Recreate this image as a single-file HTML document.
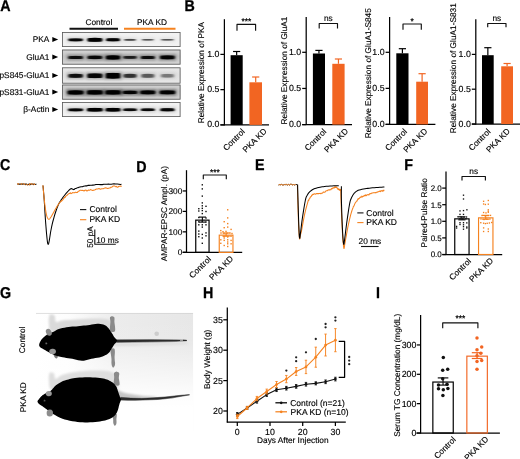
<!DOCTYPE html>
<html><head><meta charset="utf-8"><title>Figure</title>
<style>
html,body{margin:0;padding:0;background:#fff;}
body{width:520px;height:459px;overflow:hidden;}
svg{display:block;font-family:"Liberation Sans",sans-serif;text-rendering:geometricPrecision;}
</style></head><body>
<svg width="520" height="459" viewBox="0 0 520 459">
<defs>
<filter id="b1" x="-20%" y="-50%" width="140%" height="200%"><feGaussianBlur stdDeviation="0.85 0.6"/></filter>
<filter id="b4" x="-20%" y="-80%" width="140%" height="260%"><feGaussianBlur stdDeviation="1.6 1.2"/></filter>
<filter id="b2" x="-5%" y="-5%" width="110%" height="110%"><feGaussianBlur stdDeviation="0.55"/></filter>
<filter id="b3" x="-10%" y="-10%" width="120%" height="120%"><feGaussianBlur stdDeviation="1.3"/></filter>
<linearGradient id="photobg" x1="0" y1="0" x2="1" y2="0">
<stop offset="0" stop-color="#ffffff"/><stop offset="0.2" stop-color="#fdfdfd"/><stop offset="0.5" stop-color="#ececec"/><stop offset="1" stop-color="#e7e7e7"/>
</linearGradient>
<linearGradient id="photobg2" x1="0" y1="0" x2="0" y2="1">
<stop offset="0" stop-color="#ffffff" stop-opacity="0"/><stop offset="0.23" stop-color="#ffffff" stop-opacity="0.05"/><stop offset="0.45" stop-color="#ffffff" stop-opacity="0.45"/><stop offset="0.7" stop-color="#ffffff" stop-opacity="0.9"/><stop offset="0.8" stop-color="#ffffff" stop-opacity="1"/>
</linearGradient>
<clipPath id="photoclip"><rect x="34" y="312.8" width="159.2" height="120"/></clipPath>
</defs>
<rect width="520" height="459" fill="#fff"/>
<text transform="translate(0.30,11.40) scale(0.91,1)" font-size="15.7" font-weight="bold" fill="#000" stroke="#000" stroke-width="0.3" stroke-linejoin="round">A</text>
<text transform="translate(184.50,11.40) scale(0.91,1)" font-size="15.7" font-weight="bold" fill="#000" stroke="#000" stroke-width="0.3" stroke-linejoin="round">B</text>
<text transform="translate(-0.10,169.90) scale(0.91,1)" font-size="15.7" font-weight="bold" fill="#000" stroke="#000" stroke-width="0.3" stroke-linejoin="round">C</text>
<text transform="translate(136.20,171.80) scale(0.91,1)" font-size="15.7" font-weight="bold" fill="#000" stroke="#000" stroke-width="0.3" stroke-linejoin="round">D</text>
<text transform="translate(254.90,169.90) scale(0.91,1)" font-size="15.7" font-weight="bold" fill="#000" stroke="#000" stroke-width="0.3" stroke-linejoin="round">E</text>
<text transform="translate(404.20,169.90) scale(0.91,1)" font-size="15.7" font-weight="bold" fill="#000" stroke="#000" stroke-width="0.3" stroke-linejoin="round">F</text>
<text transform="translate(-0.10,298.20) scale(0.91,1)" font-size="15.7" font-weight="bold" fill="#000" stroke="#000" stroke-width="0.3" stroke-linejoin="round">G</text>
<text transform="translate(202.90,298.00) scale(0.91,1)" font-size="15.7" font-weight="bold" fill="#000" stroke="#000" stroke-width="0.3" stroke-linejoin="round">H</text>
<text transform="translate(376.00,297.80) scale(0.91,1)" font-size="15.7" font-weight="bold" fill="#000" stroke="#000" stroke-width="0.3" stroke-linejoin="round">I</text>
<text x="98.90" y="25.10" font-size="8.3" text-anchor="middle" font-weight="normal" fill="#000"  stroke="#000" stroke-width="0.14">Control</text>
<text x="152.00" y="25.10" font-size="8.3" text-anchor="middle" font-weight="normal" fill="#000"  stroke="#000" stroke-width="0.14">PKA KD</text>
<line x1="69.50" y1="28.70" x2="118.00" y2="28.70" stroke="#111" stroke-width="2.0" stroke-linecap="butt"/>
<line x1="124.00" y1="28.70" x2="175.50" y2="28.70" stroke="#f5821f" stroke-width="2.0" stroke-linecap="butt"/>
<clipPath id="blotclip"><rect x="62" y="30" width="118.5" height="90"/></clipPath>
<text x="49.30" y="42.40" font-size="8.3" text-anchor="end" font-weight="normal" fill="#000"  stroke="#000" stroke-width="0.14">PKA</text>
<path d="M52.3,37.00 L58.2,39.50 L52.3,42.00 Z" fill="#000"/>
<linearGradient id="bg0" x1="0" y1="0" x2="0" y2="1"><stop offset="0" stop-color="#f2f2f2"/><stop offset="0.45" stop-color="#f0f0f0"/><stop offset="1" stop-color="#f2f2f2"/></linearGradient>
<rect x="62.00" y="32.00" width="118.50" height="15.00" fill="url(#bg0)" stroke="none" stroke-width="1.0" />
<clipPath id="rc0"><rect x="62" y="32.0" width="118.5" height="15.0"/></clipPath>
<g clip-path="url(#rc0)">
<g filter="url(#b4)">
<rect x="66.8" y="36.80" width="17.6" height="6.00" fill="#000" opacity="0.10"/>
<rect x="85.9" y="36.30" width="18.0" height="7.00" fill="#000" opacity="0.10"/>
<rect x="104.6" y="36.70" width="16.8" height="6.20" fill="#000" opacity="0.10"/>
<rect x="122.6" y="37.30" width="14.8" height="5.00" fill="#000" opacity="0.06"/>
<rect x="140.4" y="37.40" width="14.8" height="4.80" fill="#000" opacity="0.05"/>
<rect x="159.6" y="37.40" width="15.6" height="4.80" fill="#000" opacity="0.05"/>
</g>
<g filter="url(#b1)">
<rect x="68.2" y="38.40" width="14.8" height="2.80" rx="1.40" fill="#000" opacity="0.95"/>
<ellipse cx="75.6" cy="39.80" rx="5.6" ry="1.61" fill="#000" opacity="0.57"/>
<rect x="87.3" y="37.90" width="15.2" height="3.80" rx="1.60" fill="#000" opacity="1.0"/>
<ellipse cx="94.9" cy="39.80" rx="5.7" ry="2.18" fill="#000" opacity="0.60"/>
<rect x="106.0" y="38.30" width="14.0" height="3.00" rx="1.50" fill="#000" opacity="0.97"/>
<ellipse cx="113.0" cy="39.80" rx="5.3" ry="1.72" fill="#000" opacity="0.58"/>
<rect x="124.0" y="38.90" width="12.0" height="1.80" rx="0.90" fill="#000" opacity="0.55"/>
<ellipse cx="130.0" cy="39.80" rx="4.6" ry="1.03" fill="#000" opacity="0.33"/>
<rect x="141.8" y="39.00" width="12.0" height="1.60" rx="0.80" fill="#000" opacity="0.5"/>
<ellipse cx="147.8" cy="39.80" rx="4.6" ry="0.92" fill="#000" opacity="0.30"/>
<rect x="161.0" y="39.00" width="12.8" height="1.60" rx="0.80" fill="#000" opacity="0.5"/>
<ellipse cx="167.4" cy="39.80" rx="4.9" ry="0.92" fill="#000" opacity="0.30"/>
</g></g>
<rect x="62.40" y="32.40" width="117.70" height="14.20" fill="none" stroke="#555" stroke-width="0.8" />
<text x="49.30" y="60.00" font-size="8.3" text-anchor="end" font-weight="normal" fill="#000"  stroke="#000" stroke-width="0.14">GluA1</text>
<path d="M52.3,54.60 L58.2,57.10 L52.3,59.60 Z" fill="#000"/>
<linearGradient id="bg1" x1="0" y1="0" x2="0" y2="1"><stop offset="0" stop-color="#d6d6d6"/><stop offset="0.45" stop-color="#c4c4c4"/><stop offset="1" stop-color="#d6d6d6"/></linearGradient>
<rect x="62.00" y="49.60" width="118.50" height="15.00" fill="url(#bg1)" stroke="none" stroke-width="1.0" />
<clipPath id="rc1"><rect x="62" y="49.6" width="118.5" height="14.999999999999993"/></clipPath>
<g clip-path="url(#rc1)">
<g filter="url(#b4)">
<rect x="66.8" y="54.30" width="17.6" height="6.20" fill="#000" opacity="0.26"/>
<rect x="86.1" y="54.20" width="17.6" height="6.40" fill="#000" opacity="0.27"/>
<rect x="104.4" y="53.80" width="17.2" height="7.20" fill="#000" opacity="0.30"/>
<rect x="121.8" y="54.50" width="16.4" height="5.80" fill="#000" opacity="0.21"/>
<rect x="139.4" y="54.30" width="16.8" height="6.20" fill="#000" opacity="0.26"/>
<rect x="158.6" y="54.00" width="17.6" height="6.80" fill="#000" opacity="0.28"/>
</g>
<g filter="url(#b1)">
<rect x="68.2" y="55.90" width="14.8" height="3.00" rx="1.50" fill="#000" opacity="0.85"/>
<ellipse cx="75.6" cy="57.40" rx="5.6" ry="1.72" fill="#000" opacity="0.51"/>
<rect x="87.5" y="55.80" width="14.8" height="3.20" rx="1.60" fill="#000" opacity="0.9"/>
<ellipse cx="94.9" cy="57.40" rx="5.6" ry="1.84" fill="#000" opacity="0.54"/>
<rect x="105.8" y="55.40" width="14.4" height="4.00" rx="1.60" fill="#000" opacity="1.0"/>
<ellipse cx="113.0" cy="57.40" rx="5.5" ry="2.30" fill="#000" opacity="0.60"/>
<rect x="123.2" y="56.10" width="13.6" height="2.60" rx="1.30" fill="#000" opacity="0.7"/>
<ellipse cx="130.0" cy="57.40" rx="5.2" ry="1.49" fill="#000" opacity="0.42"/>
<rect x="140.8" y="55.90" width="14.0" height="3.00" rx="1.50" fill="#000" opacity="0.85"/>
<ellipse cx="147.8" cy="57.40" rx="5.3" ry="1.72" fill="#000" opacity="0.51"/>
<rect x="160.0" y="55.60" width="14.8" height="3.60" rx="1.60" fill="#000" opacity="0.95"/>
<ellipse cx="167.4" cy="57.40" rx="5.6" ry="2.07" fill="#000" opacity="0.57"/>
</g></g>
<rect x="62.40" y="50.00" width="117.70" height="14.20" fill="none" stroke="#555" stroke-width="0.8" />
<text x="49.30" y="78.40" font-size="8.3" text-anchor="end" font-weight="normal" fill="#000"  stroke="#000" stroke-width="0.14">pS845-GluA1</text>
<path d="M52.3,73.00 L58.2,75.50 L52.3,78.00 Z" fill="#000"/>
<linearGradient id="bg2" x1="0" y1="0" x2="0" y2="1"><stop offset="0" stop-color="#e8e8e8"/><stop offset="0.45" stop-color="#e0e0e0"/><stop offset="1" stop-color="#e8e8e8"/></linearGradient>
<rect x="62.00" y="67.40" width="118.50" height="16.20" fill="url(#bg2)" stroke="none" stroke-width="1.0" />
<clipPath id="rc2"><rect x="62" y="67.4" width="118.5" height="16.19999999999999"/></clipPath>
<g clip-path="url(#rc2)">
<g filter="url(#b4)">
<rect x="66.8" y="72.30" width="17.6" height="7.00" fill="#000" opacity="0.21"/>
<rect x="85.9" y="72.00" width="18.0" height="7.60" fill="#000" opacity="0.24"/>
<rect x="104.2" y="71.50" width="17.6" height="8.60" fill="#000" opacity="0.25"/>
<rect x="121.8" y="72.30" width="16.4" height="7.00" fill="#000" opacity="0.15"/>
<rect x="139.6" y="72.30" width="16.4" height="7.00" fill="#000" opacity="0.10"/>
<rect x="159.2" y="72.40" width="16.4" height="6.80" fill="#000" opacity="0.07"/>
</g>
<g filter="url(#b1)">
<rect x="68.2" y="73.90" width="14.8" height="3.80" rx="1.60" fill="#000" opacity="0.85"/>
<ellipse cx="75.6" cy="75.80" rx="5.6" ry="2.18" fill="#000" opacity="0.51"/>
<rect x="87.3" y="73.60" width="15.2" height="4.40" rx="1.60" fill="#000" opacity="0.95"/>
<ellipse cx="94.9" cy="75.80" rx="5.7" ry="2.53" fill="#000" opacity="0.57"/>
<rect x="105.6" y="73.10" width="14.8" height="5.40" rx="1.60" fill="#000" opacity="1.0"/>
<ellipse cx="113.0" cy="75.80" rx="5.6" ry="3.10" fill="#000" opacity="0.60"/>
<rect x="123.2" y="73.90" width="13.6" height="3.80" rx="1.60" fill="#000" opacity="0.6"/>
<ellipse cx="130.0" cy="75.80" rx="5.2" ry="2.18" fill="#000" opacity="0.36"/>
<rect x="141.0" y="73.90" width="13.6" height="3.80" rx="1.60" fill="#000" opacity="0.42"/>
<ellipse cx="147.8" cy="75.80" rx="5.2" ry="2.18" fill="#000" opacity="0.25"/>
<rect x="160.6" y="74.00" width="13.6" height="3.60" rx="1.60" fill="#000" opacity="0.3"/>
<ellipse cx="167.4" cy="75.80" rx="5.2" ry="2.07" fill="#000" opacity="0.18"/>
</g></g>
<rect x="62.40" y="67.80" width="117.70" height="15.40" fill="none" stroke="#555" stroke-width="0.8" />
<text x="49.30" y="95.00" font-size="8.3" text-anchor="end" font-weight="normal" fill="#000"  stroke="#000" stroke-width="0.14">pS831-GluA1</text>
<path d="M52.3,89.60 L58.2,92.10 L52.3,94.60 Z" fill="#000"/>
<linearGradient id="bg3" x1="0" y1="0" x2="0" y2="1"><stop offset="0" stop-color="#d2d2d2"/><stop offset="0.45" stop-color="#c6c6c6"/><stop offset="1" stop-color="#d2d2d2"/></linearGradient>
<rect x="62.00" y="84.60" width="118.50" height="15.00" fill="url(#bg3)" stroke="none" stroke-width="1.0" />
<clipPath id="rc3"><rect x="62" y="84.6" width="118.5" height="15.0"/></clipPath>
<g clip-path="url(#rc3)">
<g filter="url(#b4)">
<rect x="66.2" y="88.80" width="18.8" height="7.20" fill="#000" opacity="0.38"/>
<rect x="85.5" y="88.70" width="18.8" height="7.40" fill="#000" opacity="0.38"/>
<rect x="103.8" y="88.70" width="18.4" height="7.40" fill="#000" opacity="0.38"/>
<rect x="121.2" y="89.10" width="17.6" height="6.60" fill="#000" opacity="0.36"/>
<rect x="138.8" y="89.00" width="18.0" height="6.80" fill="#000" opacity="0.37"/>
<rect x="158.2" y="89.00" width="18.4" height="6.80" fill="#000" opacity="0.37"/>
</g>
<g filter="url(#b1)">
<rect x="67.6" y="90.40" width="16.0" height="4.00" rx="1.60" fill="#000" opacity="1.0"/>
<ellipse cx="75.6" cy="92.40" rx="6.0" ry="2.30" fill="#000" opacity="0.60"/>
<rect x="86.9" y="90.30" width="16.0" height="4.20" rx="1.60" fill="#000" opacity="1.0"/>
<ellipse cx="94.9" cy="92.40" rx="6.0" ry="2.42" fill="#000" opacity="0.60"/>
<rect x="105.2" y="90.30" width="15.6" height="4.20" rx="1.60" fill="#000" opacity="1.0"/>
<ellipse cx="113.0" cy="92.40" rx="5.9" ry="2.42" fill="#000" opacity="0.60"/>
<rect x="122.6" y="90.70" width="14.8" height="3.40" rx="1.60" fill="#000" opacity="0.95"/>
<ellipse cx="130.0" cy="92.40" rx="5.6" ry="1.95" fill="#000" opacity="0.57"/>
<rect x="140.2" y="90.60" width="15.2" height="3.60" rx="1.60" fill="#000" opacity="0.97"/>
<ellipse cx="147.8" cy="92.40" rx="5.7" ry="2.07" fill="#000" opacity="0.58"/>
<rect x="159.6" y="90.60" width="15.6" height="3.60" rx="1.60" fill="#000" opacity="0.97"/>
<ellipse cx="167.4" cy="92.40" rx="5.9" ry="2.07" fill="#000" opacity="0.58"/>
</g></g>
<rect x="62.40" y="85.00" width="117.70" height="14.20" fill="none" stroke="#555" stroke-width="0.8" />
<text x="49.30" y="112.40" font-size="8.3" text-anchor="end" font-weight="normal" fill="#000"  stroke="#000" stroke-width="0.14">β-Actin</text>
<path d="M52.3,107.00 L58.2,109.50 L52.3,112.00 Z" fill="#000"/>
<linearGradient id="bg4" x1="0" y1="0" x2="0" y2="1"><stop offset="0" stop-color="#f3f3f3"/><stop offset="0.45" stop-color="#eeeeee"/><stop offset="1" stop-color="#f3f3f3"/></linearGradient>
<rect x="62.00" y="102.00" width="118.50" height="15.00" fill="url(#bg4)" stroke="none" stroke-width="1.0" />
<clipPath id="rc4"><rect x="62" y="102.0" width="118.5" height="15.0"/></clipPath>
<g clip-path="url(#rc4)">
<g filter="url(#b4)">
<rect x="66.6" y="106.80" width="18.0" height="6.00" fill="#000" opacity="0.12"/>
<rect x="85.5" y="106.40" width="18.8" height="6.80" fill="#000" opacity="0.12"/>
<rect x="104.0" y="106.40" width="18.0" height="6.80" fill="#000" opacity="0.12"/>
<rect x="121.6" y="106.90" width="16.8" height="5.80" fill="#000" opacity="0.11"/>
<rect x="139.4" y="106.90" width="16.8" height="5.80" fill="#000" opacity="0.11"/>
<rect x="158.8" y="106.70" width="17.2" height="6.20" fill="#000" opacity="0.11"/>
</g>
<g filter="url(#b1)">
<rect x="68.0" y="108.40" width="15.2" height="2.80" rx="1.40" fill="#000" opacity="0.97"/>
<ellipse cx="75.6" cy="109.80" rx="5.7" ry="1.61" fill="#000" opacity="0.58"/>
<rect x="86.9" y="108.00" width="16.0" height="3.60" rx="1.60" fill="#000" opacity="1.0"/>
<ellipse cx="94.9" cy="109.80" rx="6.0" ry="2.07" fill="#000" opacity="0.60"/>
<rect x="105.4" y="108.00" width="15.2" height="3.60" rx="1.60" fill="#000" opacity="1.0"/>
<ellipse cx="113.0" cy="109.80" rx="5.7" ry="2.07" fill="#000" opacity="0.60"/>
<rect x="123.0" y="108.50" width="14.0" height="2.60" rx="1.30" fill="#000" opacity="0.9"/>
<ellipse cx="130.0" cy="109.80" rx="5.3" ry="1.49" fill="#000" opacity="0.54"/>
<rect x="140.8" y="108.50" width="14.0" height="2.60" rx="1.30" fill="#000" opacity="0.92"/>
<ellipse cx="147.8" cy="109.80" rx="5.3" ry="1.49" fill="#000" opacity="0.55"/>
<rect x="160.2" y="108.30" width="14.4" height="3.00" rx="1.50" fill="#000" opacity="0.95"/>
<ellipse cx="167.4" cy="109.80" rx="5.5" ry="1.72" fill="#000" opacity="0.57"/>
</g></g>
<rect x="62.40" y="102.40" width="117.70" height="14.20" fill="none" stroke="#555" stroke-width="0.8" />
<line x1="224.40" y1="19.20" x2="224.40" y2="125.40" stroke="#000" stroke-width="1.25" stroke-linecap="butt"/>
<line x1="220.40" y1="124.90" x2="269.00" y2="124.90" stroke="#000" stroke-width="1.25" stroke-linecap="butt"/>
<line x1="220.40" y1="124.90" x2="224.40" y2="124.90" stroke="#000" stroke-width="1.25" stroke-linecap="butt"/>
<text x="219.40" y="127.40" font-size="8.8" text-anchor="end" font-weight="normal" fill="#000"  stroke="#000" stroke-width="0.14">0.0</text>
<line x1="220.40" y1="89.65" x2="224.40" y2="89.65" stroke="#000" stroke-width="1.25" stroke-linecap="butt"/>
<text x="219.40" y="92.15" font-size="8.8" text-anchor="end" font-weight="normal" fill="#000"  stroke="#000" stroke-width="0.14">0.5</text>
<line x1="220.40" y1="54.40" x2="224.40" y2="54.40" stroke="#000" stroke-width="1.25" stroke-linecap="butt"/>
<text x="219.40" y="56.90" font-size="8.8" text-anchor="end" font-weight="normal" fill="#000"  stroke="#000" stroke-width="0.14">1.0</text>
<rect x="230.60" y="55.20" width="12.10" height="69.70" fill="#000" stroke="none" stroke-width="1.0" />
<rect x="249.40" y="82.30" width="12.60" height="42.60" fill="#f26522" stroke="none" stroke-width="1.0" />
<line x1="236.65" y1="51.50" x2="236.65" y2="55.20" stroke="#000" stroke-width="1.2" stroke-linecap="butt"/>
<line x1="233.05" y1="51.50" x2="240.25" y2="51.50" stroke="#000" stroke-width="1.2" stroke-linecap="butt"/>
<line x1="255.70" y1="77.00" x2="255.70" y2="82.30" stroke="#f26522" stroke-width="1.2" stroke-linecap="butt"/>
<line x1="252.10" y1="77.00" x2="259.30" y2="77.00" stroke="#f26522" stroke-width="1.2" stroke-linecap="butt"/>
<polyline points="237.00,30.80 237.00,24.40 255.60,24.40 255.60,30.80" fill="none" stroke="#111" stroke-width="1.15" stroke-linejoin="round" />
<text x="246.30" y="24.00" font-size="8.3" text-anchor="middle" font-weight="normal" fill="#000" stroke="#000" stroke-width="0.25">***</text>
<text transform="translate(203.60,72.60) rotate(-90)" font-size="8.3" text-anchor="middle" font-weight="normal" fill="#000"  stroke="#000" stroke-width="0.14">Relative Expression of PKA</text>
<text transform="translate(245.30,132.30) rotate(-45)" font-size="8.3" text-anchor="end" font-weight="normal" fill="#000"  stroke="#000" stroke-width="0.14">Control</text>
<text transform="translate(267.20,131.80) rotate(-45)" font-size="8.3" text-anchor="end" font-weight="normal" fill="#000"  stroke="#000" stroke-width="0.14">PKA KD</text>
<line x1="306.20" y1="17.00" x2="306.20" y2="125.10" stroke="#000" stroke-width="1.25" stroke-linecap="butt"/>
<line x1="302.20" y1="124.60" x2="352.00" y2="124.60" stroke="#000" stroke-width="1.25" stroke-linecap="butt"/>
<line x1="302.20" y1="124.60" x2="306.20" y2="124.60" stroke="#000" stroke-width="1.25" stroke-linecap="butt"/>
<text x="301.20" y="127.10" font-size="8.8" text-anchor="end" font-weight="normal" fill="#000"  stroke="#000" stroke-width="0.14">0.0</text>
<line x1="302.20" y1="88.45" x2="306.20" y2="88.45" stroke="#000" stroke-width="1.25" stroke-linecap="butt"/>
<text x="301.20" y="90.95" font-size="8.8" text-anchor="end" font-weight="normal" fill="#000"  stroke="#000" stroke-width="0.14">0.5</text>
<line x1="302.20" y1="52.30" x2="306.20" y2="52.30" stroke="#000" stroke-width="1.25" stroke-linecap="butt"/>
<text x="301.20" y="54.80" font-size="8.8" text-anchor="end" font-weight="normal" fill="#000"  stroke="#000" stroke-width="0.14">1.0</text>
<rect x="312.90" y="53.50" width="12.10" height="71.10" fill="#000" stroke="none" stroke-width="1.0" />
<rect x="332.30" y="63.80" width="12.30" height="60.80" fill="#f26522" stroke="none" stroke-width="1.0" />
<line x1="318.95" y1="50.40" x2="318.95" y2="53.50" stroke="#000" stroke-width="1.2" stroke-linecap="butt"/>
<line x1="315.35" y1="50.40" x2="322.55" y2="50.40" stroke="#000" stroke-width="1.2" stroke-linecap="butt"/>
<line x1="338.45" y1="59.00" x2="338.45" y2="63.80" stroke="#f26522" stroke-width="1.2" stroke-linecap="butt"/>
<line x1="334.85" y1="59.00" x2="342.05" y2="59.00" stroke="#f26522" stroke-width="1.2" stroke-linecap="butt"/>
<polyline points="319.20,28.50 319.20,23.50 337.50,23.50 337.50,28.50" fill="none" stroke="#111" stroke-width="1.15" stroke-linejoin="round" />
<text x="328.35" y="21.00" font-size="8.3" text-anchor="middle" font-weight="normal" fill="#000"  stroke="#000" stroke-width="0.14">ns</text>
<text transform="translate(286.60,70.50) rotate(-90)" font-size="8.3" text-anchor="middle" font-weight="normal" fill="#000"  stroke="#000" stroke-width="0.14">Relative Expression of GluA1</text>
<text transform="translate(326.80,132.30) rotate(-45)" font-size="8.3" text-anchor="end" font-weight="normal" fill="#000"  stroke="#000" stroke-width="0.14">Control</text>
<text transform="translate(348.70,131.80) rotate(-45)" font-size="8.3" text-anchor="end" font-weight="normal" fill="#000"  stroke="#000" stroke-width="0.14">PKA KD</text>
<line x1="389.60" y1="17.00" x2="389.60" y2="124.90" stroke="#000" stroke-width="1.25" stroke-linecap="butt"/>
<line x1="385.60" y1="124.40" x2="435.40" y2="124.40" stroke="#000" stroke-width="1.25" stroke-linecap="butt"/>
<line x1="385.60" y1="124.40" x2="389.60" y2="124.40" stroke="#000" stroke-width="1.25" stroke-linecap="butt"/>
<text x="384.60" y="126.90" font-size="8.8" text-anchor="end" font-weight="normal" fill="#000"  stroke="#000" stroke-width="0.14">0.0</text>
<line x1="385.60" y1="88.35" x2="389.60" y2="88.35" stroke="#000" stroke-width="1.25" stroke-linecap="butt"/>
<text x="384.60" y="90.85" font-size="8.8" text-anchor="end" font-weight="normal" fill="#000"  stroke="#000" stroke-width="0.14">0.5</text>
<line x1="385.60" y1="52.30" x2="389.60" y2="52.30" stroke="#000" stroke-width="1.25" stroke-linecap="butt"/>
<text x="384.60" y="54.80" font-size="8.8" text-anchor="end" font-weight="normal" fill="#000"  stroke="#000" stroke-width="0.14">1.0</text>
<rect x="396.30" y="53.30" width="12.20" height="71.10" fill="#000" stroke="none" stroke-width="1.0" />
<rect x="416.20" y="81.70" width="11.80" height="42.70" fill="#f26522" stroke="none" stroke-width="1.0" />
<line x1="402.40" y1="48.70" x2="402.40" y2="53.30" stroke="#000" stroke-width="1.2" stroke-linecap="butt"/>
<line x1="398.80" y1="48.70" x2="406.00" y2="48.70" stroke="#000" stroke-width="1.2" stroke-linecap="butt"/>
<line x1="422.10" y1="73.70" x2="422.10" y2="81.70" stroke="#f26522" stroke-width="1.2" stroke-linecap="butt"/>
<line x1="418.50" y1="73.70" x2="425.70" y2="73.70" stroke="#f26522" stroke-width="1.2" stroke-linecap="butt"/>
<polyline points="403.00,29.80 403.00,24.00 421.30,24.00 421.30,29.80" fill="none" stroke="#111" stroke-width="1.15" stroke-linejoin="round" />
<text x="412.15" y="23.60" font-size="8.3" text-anchor="middle" font-weight="normal" fill="#000" stroke="#000" stroke-width="0.25">*</text>
<text transform="translate(371.10,73.20) rotate(-90)" font-size="8.3" text-anchor="middle" font-weight="normal" fill="#000"  stroke="#000" stroke-width="0.14">Relative Expression of GluA1-S845</text>
<text transform="translate(407.50,132.30) rotate(-45)" font-size="8.3" text-anchor="end" font-weight="normal" fill="#000"  stroke="#000" stroke-width="0.14">Control</text>
<text transform="translate(427.90,131.80) rotate(-45)" font-size="8.3" text-anchor="end" font-weight="normal" fill="#000"  stroke="#000" stroke-width="0.14">PKA KD</text>
<line x1="475.80" y1="19.20" x2="475.80" y2="124.50" stroke="#000" stroke-width="1.25" stroke-linecap="butt"/>
<line x1="471.80" y1="124.00" x2="521.00" y2="124.00" stroke="#000" stroke-width="1.25" stroke-linecap="butt"/>
<line x1="471.80" y1="124.00" x2="475.80" y2="124.00" stroke="#000" stroke-width="1.25" stroke-linecap="butt"/>
<text x="470.80" y="126.50" font-size="8.8" text-anchor="end" font-weight="normal" fill="#000"  stroke="#000" stroke-width="0.14">0.0</text>
<line x1="471.80" y1="89.20" x2="475.80" y2="89.20" stroke="#000" stroke-width="1.25" stroke-linecap="butt"/>
<text x="470.80" y="91.70" font-size="8.8" text-anchor="end" font-weight="normal" fill="#000"  stroke="#000" stroke-width="0.14">0.5</text>
<line x1="471.80" y1="54.40" x2="475.80" y2="54.40" stroke="#000" stroke-width="1.25" stroke-linecap="butt"/>
<text x="470.80" y="56.90" font-size="8.8" text-anchor="end" font-weight="normal" fill="#000"  stroke="#000" stroke-width="0.14">1.0</text>
<rect x="482.00" y="55.20" width="11.70" height="68.80" fill="#000" stroke="none" stroke-width="1.0" />
<rect x="501.20" y="66.30" width="11.80" height="57.70" fill="#f26522" stroke="none" stroke-width="1.0" />
<line x1="487.85" y1="47.70" x2="487.85" y2="55.20" stroke="#000" stroke-width="1.2" stroke-linecap="butt"/>
<line x1="484.25" y1="47.70" x2="491.45" y2="47.70" stroke="#000" stroke-width="1.2" stroke-linecap="butt"/>
<line x1="507.10" y1="63.50" x2="507.10" y2="66.30" stroke="#f26522" stroke-width="1.2" stroke-linecap="butt"/>
<line x1="503.50" y1="63.50" x2="510.70" y2="63.50" stroke="#f26522" stroke-width="1.2" stroke-linecap="butt"/>
<polyline points="487.70,27.30 487.70,23.50 506.00,23.50 506.00,27.30" fill="none" stroke="#111" stroke-width="1.15" stroke-linejoin="round" />
<text x="496.85" y="21.00" font-size="8.3" text-anchor="middle" font-weight="normal" fill="#000"  stroke="#000" stroke-width="0.14">ns</text>
<text transform="translate(455.90,68.20) rotate(-90)" font-size="8.3" text-anchor="middle" font-weight="normal" fill="#000"  stroke="#000" stroke-width="0.14">Relative Expression of GluA1-S831</text>
<text transform="translate(491.00,132.30) rotate(-45)" font-size="8.3" text-anchor="end" font-weight="normal" fill="#000"  stroke="#000" stroke-width="0.14">Control</text>
<text transform="translate(510.60,131.80) rotate(-45)" font-size="8.3" text-anchor="end" font-weight="normal" fill="#000"  stroke="#000" stroke-width="0.14">PKA KD</text>
<polyline points="17.30,184.14 17.90,183.99 18.50,184.44 19.10,183.92 19.70,184.33 20.30,184.18 20.90,183.90 21.50,184.31 22.10,183.88 22.70,184.24 23.30,183.91 23.90,183.93 24.50,184.23 25.10,184.59 25.70,183.96 26.30,184.05 26.90,184.41 27.50,184.70 28.10,184.37 28.70,184.21 29.30,184.73 29.90,183.89 30.50,184.62 31.10,184.11 31.70,183.98 32.30,183.96 32.90,184.13 33.50,184.58 34.10,184.01 34.70,184.37 35.30,184.43 35.90,184.19 36.50,184.34" fill="none" stroke="#111" stroke-width="1.1" stroke-linejoin="round" />
<polyline points="17.30,183.88 17.90,183.72 18.50,184.26 19.10,184.02 19.70,184.29 20.30,184.07 20.90,183.95 21.50,184.28 22.10,183.76 22.70,184.42 23.30,184.03 23.90,183.78 24.50,184.28 25.10,184.61 25.70,184.19 26.30,184.19 26.90,184.29 27.50,184.99 28.10,184.14 28.70,184.16 29.30,184.88 29.90,183.68 30.50,184.62 31.10,183.83 31.70,184.08 32.30,184.11 32.90,184.17 33.50,184.81 34.10,183.90 34.70,184.49 35.30,184.48 35.90,184.23 36.50,184.32" fill="none" stroke="#f5821f" stroke-width="1.1" stroke-linejoin="round" stroke-dasharray="2.2 1.3"/>
<polyline points="43.00,185.50 43.16,187.35 43.38,189.90 43.65,192.96 43.93,196.39 44.20,200.00 44.46,203.98 44.74,208.45 45.02,213.13 45.30,217.74 45.60,222.00 45.92,226.08 46.25,230.15 46.59,233.98 46.92,237.34 47.20,240.00 47.44,241.86 47.64,243.07 47.83,243.78 48.01,244.15 48.20,244.30 48.39,244.23 48.57,243.85 48.76,243.17 48.96,242.21 49.20,241.00 49.47,239.43 49.77,237.48 50.09,235.32 50.43,233.11 50.80,231.00 51.19,228.99 51.61,226.98 52.05,224.96 52.51,222.97 53.00,221.00 53.52,219.04 54.07,217.08 54.64,215.15 55.22,213.28 55.80,211.50 56.39,209.79 57.00,208.14 57.60,206.56 58.21,205.11 58.80,203.80 59.37,202.69 59.92,201.75 60.48,200.92 61.03,200.12 61.60,199.30 62.19,198.44 62.80,197.59 63.40,196.76 64.01,195.96 64.60,195.20 65.17,194.48 65.72,193.80 66.28,193.15 66.83,192.52 67.40,191.90 68.01,191.25 68.65,190.59 69.29,189.95 69.89,189.41 70.40,189.00 70.81,188.76 71.15,188.64 71.44,188.62 71.72,188.65 72.00,188.87 72.28,189.04 72.54,189.01 72.80,189.33 73.08,189.21 73.40,189.60 73.74,189.51 74.07,189.53 74.45,189.24 74.92,188.73 75.50,188.54 76.22,188.43 77.06,187.83 77.98,187.76 78.97,187.32 80.00,187.01 81.11,186.71 82.32,186.78 83.56,186.19 84.81,186.00 86.00,185.85 87.10,185.89 88.14,185.32 89.18,185.36 90.28,185.26 91.50,185.29 92.86,185.12 94.33,185.01 95.87,184.59 97.44,184.55 99.00,184.43 100.58,184.63 102.21,184.62 103.85,184.19 105.46,184.17 107.00,184.17 108.46,184.12 109.85,184.20 111.21,184.20 112.58,184.00 114.00,183.85 115.59,184.06 117.32,184.06 119.02,184.19 120.47,184.41 121.50,184.30" fill="none" stroke="#000" stroke-width="1.05" stroke-linejoin="round" />
<polyline points="42.90,185.30 43.02,186.58 43.18,188.36 43.37,190.46 43.58,192.72 43.79,194.96 44.00,197.00 44.20,198.91 44.41,200.83 44.62,202.73 44.84,204.58 45.07,206.35 45.30,208.00 45.53,209.56 45.77,211.06 46.01,212.48 46.26,213.79 46.52,214.97 46.80,216.00 47.09,216.88 47.40,217.64 47.72,218.26 48.05,218.75 48.38,219.10 48.70,219.30 49.01,219.32 49.31,219.16 49.62,218.86 49.93,218.45 50.25,217.99 50.60,217.50 50.97,216.97 51.35,216.37 51.74,215.70 52.15,214.99 52.57,214.25 53.00,213.50 53.44,212.72 53.90,211.90 54.36,211.04 54.84,210.18 55.32,209.33 55.80,208.50 56.29,207.68 56.79,206.86 57.30,206.04 57.81,205.24 58.31,204.49 58.80,203.80 59.28,203.18 59.74,202.63 60.20,202.23 60.66,201.80 61.12,200.56 61.60,201.08 62.09,200.43 62.59,200.04 63.10,199.46 63.61,198.49 64.11,198.03 64.60,197.22 65.08,197.43 65.54,196.32 66.00,195.92 66.46,195.70 66.92,195.27 67.40,195.11 67.87,194.39 68.33,193.95 68.79,193.76 69.27,193.36 69.81,193.38 70.40,192.73 71.07,193.60 71.80,193.21 72.58,192.63 73.38,192.72 74.19,192.77 75.00,192.64 75.80,192.08 76.60,192.60 77.41,192.37 78.24,191.35 79.10,191.03 80.00,190.30 80.95,190.19 81.94,190.43 82.97,190.33 84.00,191.02 85.02,190.23 86.00,190.03 86.92,191.07 87.80,190.48 88.66,189.93 89.54,190.30 90.47,189.56 91.50,190.03 92.63,190.43 93.83,190.13 95.09,189.76 96.39,189.06 97.70,189.01 99.00,188.60 100.35,189.16 101.78,188.69 103.22,188.81 104.61,188.10 105.89,187.81 107.00,188.37 107.90,188.47 108.64,188.22 109.27,188.08 109.84,188.01 110.40,187.82 111.00,187.07 111.63,187.24 112.24,186.81 112.84,186.17 113.43,185.94 114.02,186.05 114.60,185.91 115.18,186.41 115.74,186.78 116.31,186.27 116.87,186.98 117.43,187.14 118.00,187.15 118.62,186.44 119.29,186.23 119.96,186.20 120.59,186.11 121.12,186.07 121.50,186.55" fill="none" stroke="#f5821f" stroke-width="1.05" stroke-linejoin="round" />
<line x1="80.00" y1="209.60" x2="86.30" y2="209.60" stroke="#111" stroke-width="1.1" stroke-linecap="butt"/>
<text x="89.40" y="212.30" font-size="8.5" text-anchor="start" font-weight="normal" fill="#000"  stroke="#000" stroke-width="0.14">Control</text>
<line x1="80.00" y1="219.70" x2="86.30" y2="219.70" stroke="#f5821f" stroke-width="1.1" stroke-linecap="butt"/>
<text x="89.40" y="222.40" font-size="8.5" text-anchor="start" font-weight="normal" fill="#000"  stroke="#000" stroke-width="0.14">PKA KD</text>
<polyline points="94.80,229.40 94.80,244.30 115.80,244.30" fill="none" stroke="#111" stroke-width="1.1" stroke-linejoin="round" />
<text x="96.20" y="243.00" font-size="8.3" text-anchor="start" font-weight="normal" fill="#000"  stroke="#000" stroke-width="0.14">10 ms</text>
<text transform="translate(92.70,247.80) rotate(-90)" font-size="8.3" text-anchor="start" font-weight="normal" fill="#000"  stroke="#000" stroke-width="0.14">50 pA</text>
<line x1="186.50" y1="170.20" x2="186.50" y2="252.90" stroke="#000" stroke-width="1.25" stroke-linecap="butt"/>
<line x1="182.70" y1="252.40" x2="242.20" y2="252.40" stroke="#000" stroke-width="1.25" stroke-linecap="butt"/>
<line x1="182.70" y1="252.30" x2="186.50" y2="252.30" stroke="#000" stroke-width="1.25" stroke-linecap="butt"/>
<text x="182.30" y="255.30" font-size="8.3" text-anchor="end" font-weight="normal" fill="#000"  stroke="#000" stroke-width="0.14">0</text>
<line x1="182.70" y1="231.85" x2="186.50" y2="231.85" stroke="#000" stroke-width="1.25" stroke-linecap="butt"/>
<text x="182.30" y="234.85" font-size="8.3" text-anchor="end" font-weight="normal" fill="#000"  stroke="#000" stroke-width="0.14">100</text>
<line x1="182.70" y1="211.40" x2="186.50" y2="211.40" stroke="#000" stroke-width="1.25" stroke-linecap="butt"/>
<text x="182.30" y="214.40" font-size="8.3" text-anchor="end" font-weight="normal" fill="#000"  stroke="#000" stroke-width="0.14">200</text>
<line x1="182.70" y1="190.95" x2="186.50" y2="190.95" stroke="#000" stroke-width="1.25" stroke-linecap="butt"/>
<text x="182.30" y="193.95" font-size="8.3" text-anchor="end" font-weight="normal" fill="#000"  stroke="#000" stroke-width="0.14">300</text>
<rect x="195.75" y="220.15" width="13.30" height="32.25" fill="none" stroke="#000" stroke-width="1.2" />
<rect x="219.25" y="235.15" width="13.70" height="17.25" fill="none" stroke="#f5821f" stroke-width="1.15" />
<line x1="202.40" y1="217.10" x2="202.40" y2="222.10" stroke="#111" stroke-width="1.2" stroke-linecap="butt"/>
<line x1="198.80" y1="217.10" x2="206.00" y2="217.10" stroke="#111" stroke-width="1.2" stroke-linecap="butt"/>
<line x1="198.80" y1="222.10" x2="206.00" y2="222.10" stroke="#111" stroke-width="1.2" stroke-linecap="butt"/>
<line x1="226.10" y1="233.00" x2="226.10" y2="236.20" stroke="#f5821f" stroke-width="1.2" stroke-linecap="butt"/>
<line x1="222.50" y1="233.00" x2="229.70" y2="233.00" stroke="#f5821f" stroke-width="1.2" stroke-linecap="butt"/>
<line x1="222.50" y1="236.20" x2="229.70" y2="236.20" stroke="#f5821f" stroke-width="1.2" stroke-linecap="butt"/>
<rect x="201.60" y="184.10" width="1.40" height="1.40" fill="#111" stroke="none" stroke-width="1.0" />
<rect x="201.60" y="188.20" width="1.40" height="1.40" fill="#111" stroke="none" stroke-width="1.0" />
<rect x="201.60" y="195.40" width="1.40" height="1.40" fill="#111" stroke="none" stroke-width="1.0" />
<rect x="201.60" y="202.20" width="1.40" height="1.40" fill="#111" stroke="none" stroke-width="1.0" />
<rect x="201.60" y="205.10" width="1.40" height="1.40" fill="#111" stroke="none" stroke-width="1.0" />
<rect x="205.30" y="205.60" width="1.40" height="1.40" fill="#111" stroke="none" stroke-width="1.0" />
<rect x="198.10" y="208.00" width="1.40" height="1.40" fill="#111" stroke="none" stroke-width="1.0" />
<rect x="201.60" y="207.60" width="1.40" height="1.40" fill="#111" stroke="none" stroke-width="1.0" />
<rect x="198.10" y="210.30" width="1.40" height="1.40" fill="#111" stroke="none" stroke-width="1.0" />
<rect x="201.60" y="209.90" width="1.40" height="1.40" fill="#111" stroke="none" stroke-width="1.0" />
<rect x="205.30" y="210.80" width="1.40" height="1.40" fill="#111" stroke="none" stroke-width="1.0" />
<rect x="201.60" y="212.90" width="1.40" height="1.40" fill="#111" stroke="none" stroke-width="1.0" />
<rect x="198.10" y="216.80" width="1.40" height="1.40" fill="#111" stroke="none" stroke-width="1.0" />
<rect x="205.30" y="217.30" width="1.40" height="1.40" fill="#111" stroke="none" stroke-width="1.0" />
<rect x="201.60" y="220.80" width="1.40" height="1.40" fill="#111" stroke="none" stroke-width="1.0" />
<rect x="198.10" y="221.10" width="1.40" height="1.40" fill="#111" stroke="none" stroke-width="1.0" />
<rect x="205.30" y="221.30" width="1.40" height="1.40" fill="#111" stroke="none" stroke-width="1.0" />
<rect x="198.10" y="224.10" width="1.40" height="1.40" fill="#111" stroke="none" stroke-width="1.0" />
<rect x="201.60" y="224.10" width="1.40" height="1.40" fill="#111" stroke="none" stroke-width="1.0" />
<rect x="205.30" y="224.10" width="1.40" height="1.40" fill="#111" stroke="none" stroke-width="1.0" />
<rect x="201.60" y="226.40" width="1.40" height="1.40" fill="#111" stroke="none" stroke-width="1.0" />
<rect x="198.10" y="230.40" width="1.40" height="1.40" fill="#111" stroke="none" stroke-width="1.0" />
<rect x="205.30" y="232.20" width="1.40" height="1.40" fill="#111" stroke="none" stroke-width="1.0" />
<rect x="198.10" y="233.30" width="1.40" height="1.40" fill="#111" stroke="none" stroke-width="1.0" />
<rect x="201.60" y="233.70" width="1.40" height="1.40" fill="#111" stroke="none" stroke-width="1.0" />
<rect x="205.30" y="235.10" width="1.40" height="1.40" fill="#111" stroke="none" stroke-width="1.0" />
<rect x="198.10" y="236.00" width="1.40" height="1.40" fill="#111" stroke="none" stroke-width="1.0" />
<rect x="201.60" y="237.30" width="1.40" height="1.40" fill="#111" stroke="none" stroke-width="1.0" />
<rect x="201.60" y="242.60" width="1.40" height="1.40" fill="#111" stroke="none" stroke-width="1.0" />
<rect x="227.00" y="209.10" width="1.40" height="1.40" fill="#f5821f" stroke="none" stroke-width="1.0" />
<rect x="227.00" y="217.20" width="1.40" height="1.40" fill="#f5821f" stroke="none" stroke-width="1.0" />
<rect x="223.50" y="221.00" width="1.40" height="1.40" fill="#f5821f" stroke="none" stroke-width="1.0" />
<rect x="227.00" y="222.90" width="1.40" height="1.40" fill="#f5821f" stroke="none" stroke-width="1.0" />
<rect x="223.50" y="227.00" width="1.40" height="1.40" fill="#f5821f" stroke="none" stroke-width="1.0" />
<rect x="227.00" y="226.40" width="1.40" height="1.40" fill="#f5821f" stroke="none" stroke-width="1.0" />
<rect x="230.40" y="228.70" width="1.40" height="1.40" fill="#f5821f" stroke="none" stroke-width="1.0" />
<rect x="220.10" y="229.90" width="1.40" height="1.40" fill="#f5821f" stroke="none" stroke-width="1.0" />
<rect x="222.30" y="231.00" width="1.40" height="1.40" fill="#f5821f" stroke="none" stroke-width="1.0" />
<rect x="225.30" y="230.70" width="1.40" height="1.40" fill="#f5821f" stroke="none" stroke-width="1.0" />
<rect x="220.30" y="232.30" width="1.40" height="1.40" fill="#f5821f" stroke="none" stroke-width="1.0" />
<rect x="223.30" y="232.70" width="1.40" height="1.40" fill="#f5821f" stroke="none" stroke-width="1.0" />
<rect x="226.30" y="232.50" width="1.40" height="1.40" fill="#f5821f" stroke="none" stroke-width="1.0" />
<rect x="229.30" y="232.30" width="1.40" height="1.40" fill="#f5821f" stroke="none" stroke-width="1.0" />
<rect x="231.30" y="232.80" width="1.40" height="1.40" fill="#f5821f" stroke="none" stroke-width="1.0" />
<rect x="223.30" y="235.80" width="1.40" height="1.40" fill="#f5821f" stroke="none" stroke-width="1.0" />
<rect x="227.00" y="236.30" width="1.40" height="1.40" fill="#f5821f" stroke="none" stroke-width="1.0" />
<rect x="230.30" y="235.60" width="1.40" height="1.40" fill="#f5821f" stroke="none" stroke-width="1.0" />
<rect x="220.10" y="239.10" width="1.40" height="1.40" fill="#f5821f" stroke="none" stroke-width="1.0" />
<rect x="223.50" y="239.70" width="1.40" height="1.40" fill="#f5821f" stroke="none" stroke-width="1.0" />
<rect x="227.00" y="239.10" width="1.40" height="1.40" fill="#f5821f" stroke="none" stroke-width="1.0" />
<rect x="230.40" y="239.70" width="1.40" height="1.40" fill="#f5821f" stroke="none" stroke-width="1.0" />
<rect x="220.10" y="242.60" width="1.40" height="1.40" fill="#f5821f" stroke="none" stroke-width="1.0" />
<rect x="227.00" y="243.10" width="1.40" height="1.40" fill="#f5821f" stroke="none" stroke-width="1.0" />
<rect x="230.40" y="243.10" width="1.40" height="1.40" fill="#f5821f" stroke="none" stroke-width="1.0" />
<rect x="223.50" y="237.30" width="1.40" height="1.40" fill="#f5821f" stroke="none" stroke-width="1.0" />
<rect x="227.00" y="241.30" width="1.40" height="1.40" fill="#f5821f" stroke="none" stroke-width="1.0" />
<rect x="223.50" y="244.80" width="1.40" height="1.40" fill="#f5821f" stroke="none" stroke-width="1.0" />
<rect x="227.00" y="245.80" width="1.40" height="1.40" fill="#f5821f" stroke="none" stroke-width="1.0" />
<polyline points="203.30,179.20 203.30,175.00 226.30,175.00 226.30,179.20" fill="none" stroke="#111" stroke-width="1.15" stroke-linejoin="round" />
<text x="214.80" y="174.60" font-size="8.3" text-anchor="middle" font-weight="normal" fill="#000" stroke="#000" stroke-width="0.25">***</text>
<text transform="translate(166.60,213.70) rotate(-90)" font-size="8.3" text-anchor="middle" font-weight="normal" fill="#000"  stroke="#000" stroke-width="0.14">AMPAR-EPSC Ampl. (pA)</text>
<text transform="translate(211.50,259.80) rotate(-45)" font-size="8.3" text-anchor="end" font-weight="normal" fill="#000"  stroke="#000" stroke-width="0.14">Control</text>
<text transform="translate(233.80,259.30) rotate(-45)" font-size="8.3" text-anchor="end" font-weight="normal" fill="#000"  stroke="#000" stroke-width="0.14">PKA KD</text>
<polyline points="278.50,185.00 279.10,184.94 279.70,184.58 280.30,184.75 280.90,184.90 281.50,184.18 282.10,184.76 282.70,185.01 283.30,184.88 283.90,184.85 284.50,184.58 285.10,184.28 285.70,184.89 286.30,184.43 286.90,184.90 287.50,185.07 288.10,184.50 288.70,184.50 289.30,185.05 289.90,184.82 290.50,184.27 291.10,184.23 291.70,184.25 292.30,185.00 292.90,184.91 293.50,184.25 294.10,184.93 294.70,185.08 295.30,184.76 295.90,184.45 297.20,184.60" fill="none" stroke="#111" stroke-width="0.9" stroke-linejoin="round" />
<polyline points="278.50,185.03 279.10,184.72 279.70,184.29 280.30,185.04 280.90,184.99 281.50,184.20 282.10,185.02 282.70,184.97 283.30,185.11 283.90,185.05 284.50,184.40 285.10,184.13 285.70,184.76 286.30,184.28 286.90,184.95 287.50,184.93 288.10,184.45 288.70,184.28 289.30,185.29 289.90,184.74 290.50,184.24 291.10,184.28 291.70,184.49 292.30,184.96 292.90,185.16 293.50,184.25 294.10,184.95 294.70,185.09 295.30,184.47 295.90,184.41" fill="none" stroke="#f5821f" stroke-width="1.0" stroke-linejoin="round" />
<polyline points="297.40,184.80 297.44,186.34 297.49,188.38 297.55,190.84 297.62,193.64 297.71,196.72 297.80,200.00 297.91,203.73 298.03,208.03 298.17,212.60 298.31,217.15 298.46,221.38 298.60,225.00 298.74,228.13 298.89,231.01 299.04,233.59 299.20,235.76 299.35,237.46 299.50,238.60 299.65,239.00 299.79,238.70 299.94,237.91 300.09,236.88 300.24,235.83 300.40,235.00 300.55,234.46 300.69,234.06 300.82,233.64 300.99,233.05 301.21,232.16 301.50,230.80 301.88,228.84 302.33,226.36 302.84,223.56 303.37,220.67 303.90,217.88 304.40,215.40 304.89,213.17 305.40,211.00 305.91,208.94 306.40,207.02 306.87,205.30 307.30,203.80 307.69,202.58 308.04,201.24 308.36,200.25 308.67,200.56 308.98,199.21 309.30,198.97 309.61,198.68 309.91,197.97 310.20,197.23 310.50,197.04 310.83,196.68 311.20,196.54 311.61,195.29 312.04,195.39 312.50,194.59 312.98,194.23 313.48,194.49 314.00,193.91 314.55,193.81 315.12,193.97 315.72,194.13 316.32,193.57 316.92,193.77 317.50,193.61 318.06,193.57 318.60,193.74 319.14,193.41 319.68,193.45 320.23,193.30 320.80,193.73 321.39,193.26 321.99,193.26 322.61,193.09 323.23,192.02 323.86,192.12 324.50,192.33 325.16,191.98 325.83,190.91 326.51,190.67 327.19,190.83 327.86,190.14 328.50,190.09 329.12,189.61 329.71,190.03 330.30,189.85 330.87,189.68 331.44,188.48 332.00,188.86 332.57,188.49 333.15,187.54 333.72,188.11 334.26,187.92 334.76,186.80 335.20,187.54 335.56,186.84 335.87,186.98 336.12,187.69 336.36,187.64 336.57,187.01 336.80,187.52 337.02,187.84 337.22,187.90 337.41,188.03 337.60,188.49 337.79,189.25 338.00,188.62 338.22,189.43 338.46,189.42 338.70,189.02 338.94,189.48 339.18,189.90 339.40,189.81 339.63,189.31 339.86,190.43 340.09,190.18 340.30,190.39 340.47,189.33 340.60,189.52 340.70,189.80 340.75,191.32 340.80,193.30 340.87,195.71 340.96,198.50 341.07,201.61 341.20,205.00 341.36,208.94 341.54,213.53 341.74,218.45 341.96,223.38 342.18,228.00 342.40,232.00 342.63,235.53 342.87,238.89 343.11,241.94 343.36,244.56 343.59,246.62 343.80,248.00 343.99,248.51 344.16,248.20 344.32,247.34 344.48,246.19 344.64,244.98 344.80,244.00 344.96,243.23 345.10,242.46 345.24,241.66 345.40,240.76 345.58,239.72 345.80,238.50 346.06,237.02 346.37,235.31 346.69,233.46 347.03,231.56 347.37,229.71 347.70,228.00 348.02,226.42 348.33,224.88 348.65,223.39 348.97,221.95 349.28,220.55 349.60,219.20 349.92,217.89 350.23,216.61 350.54,215.38 350.86,214.20 351.18,213.07 351.50,212.00 351.81,211.02 352.09,210.14 352.38,209.32 352.70,208.50 353.06,207.64 353.50,206.15 354.04,205.95 354.67,204.13 355.36,202.71 356.05,201.86 356.71,201.37 357.30,200.38 357.81,199.08 358.27,198.49 358.70,199.08 359.12,198.41 359.55,198.32 360.00,197.31 360.47,196.96 360.94,197.43 361.42,196.85 361.91,196.17 362.44,196.96 363.00,196.36 363.61,196.34 364.27,195.27 364.95,196.00 365.64,194.87 366.33,195.63 367.00,194.94 367.65,194.60 368.29,194.65 368.92,194.89 369.55,193.90 370.17,193.54 370.80,193.83 371.42,193.32 372.03,193.01 372.64,192.92 373.25,192.65 373.87,192.69 374.50,192.67 375.16,192.52 375.85,192.92 376.54,192.20 377.23,192.31 377.89,191.77 378.50,191.82 379.06,191.26 379.58,191.36 380.07,190.90 380.54,191.59 381.02,191.21 381.50,190.63 382.02,190.84 382.58,191.27 383.14,190.17 383.65,190.92 384.09,190.38 384.40,190.39" fill="none" stroke="#f5821f" stroke-width="1.05" stroke-linejoin="round" />
<polyline points="297.60,184.60 297.66,187.14 297.75,190.74 297.86,195.11 298.00,200.00 298.17,205.85 298.38,212.63 298.59,219.35 298.80,225.00 299.00,229.61 299.19,233.61 299.39,236.63 299.60,238.30 299.81,238.30 300.03,236.90 300.28,234.63 300.60,232.00 300.99,228.98 301.43,225.34 301.93,221.35 302.50,217.30 303.18,212.86 303.96,208.03 304.73,203.50 305.40,200.00 305.92,197.90 306.36,196.76 306.76,196.06 307.20,195.30 307.67,194.41 308.14,193.65 308.64,192.96 309.20,192.30 309.84,191.66 310.54,191.06 311.27,190.50 312.00,190.00 312.69,189.56 313.36,189.19 314.10,188.84 315.00,188.50 316.12,188.15 317.40,187.80 318.73,187.48 320.00,187.20 321.11,186.98 322.15,186.81 323.26,186.65 324.60,186.50 326.27,186.33 328.16,186.17 330.13,186.02 332.00,185.90 333.90,185.82 335.86,185.76 337.59,185.73 338.80,185.70" fill="none" stroke="#000" stroke-width="1.05" stroke-linejoin="round" />
<polyline points="341.40,186.20 341.38,188.35 341.34,191.35 341.33,195.23 341.40,200.00 341.57,206.28 341.82,213.85 342.11,221.50 342.40,228.00 342.69,233.40 342.99,238.24 343.30,242.00 343.60,244.20 343.88,244.43 344.16,243.05 344.45,240.69 344.80,238.00 345.20,234.97 345.64,231.31 346.14,227.25 346.70,223.00 347.38,218.18 348.16,212.82 348.93,207.76 349.60,203.80 350.12,201.36 350.55,199.94 350.95,199.00 351.40,198.00 351.89,196.88 352.41,195.90 352.94,195.02 353.50,194.20 354.08,193.44 354.68,192.76 355.32,192.15 356.00,191.60 356.69,191.12 357.39,190.71 358.20,190.35 359.20,190.00 360.47,189.66 361.94,189.35 363.49,189.06 365.00,188.80 366.42,188.57 367.81,188.36 369.25,188.18 370.80,188.00 372.52,187.83 374.36,187.68 376.22,187.53 378.00,187.40 379.81,187.28 381.65,187.16 383.27,187.07 384.40,187.00" fill="none" stroke="#000" stroke-width="1.05" stroke-linejoin="round" />
<line x1="357.30" y1="212.90" x2="363.50" y2="212.90" stroke="#111" stroke-width="1.1" stroke-linecap="butt"/>
<text x="366.30" y="215.60" font-size="8.5" text-anchor="start" font-weight="normal" fill="#000"  stroke="#000" stroke-width="0.14">Control</text>
<line x1="357.30" y1="222.60" x2="363.50" y2="222.60" stroke="#f5821f" stroke-width="1.1" stroke-linecap="butt"/>
<text x="366.30" y="225.40" font-size="8.5" text-anchor="start" font-weight="normal" fill="#000"  stroke="#000" stroke-width="0.14">PKA KD</text>
<text x="358.60" y="243.80" font-size="8.3" text-anchor="start" font-weight="normal" fill="#000"  stroke="#000" stroke-width="0.14">20 ms</text>
<line x1="361.00" y1="246.50" x2="378.60" y2="246.50" stroke="#111" stroke-width="1.1" stroke-linecap="butt"/>
<line x1="446.00" y1="171.50" x2="446.00" y2="255.00" stroke="#000" stroke-width="1.25" stroke-linecap="butt"/>
<line x1="442.40" y1="254.50" x2="502.20" y2="254.50" stroke="#000" stroke-width="1.25" stroke-linecap="butt"/>
<line x1="442.20" y1="254.50" x2="446.00" y2="254.50" stroke="#000" stroke-width="1.25" stroke-linecap="butt"/>
<text x="441.80" y="257.41" font-size="8.0" text-anchor="end" font-weight="normal" fill="#000"  stroke="#000" stroke-width="0.14">0.0</text>
<line x1="442.20" y1="237.90" x2="446.00" y2="237.90" stroke="#000" stroke-width="1.25" stroke-linecap="butt"/>
<text x="441.80" y="240.81" font-size="8.0" text-anchor="end" font-weight="normal" fill="#000"  stroke="#000" stroke-width="0.14">0.5</text>
<line x1="442.20" y1="221.30" x2="446.00" y2="221.30" stroke="#000" stroke-width="1.25" stroke-linecap="butt"/>
<text x="441.80" y="224.21" font-size="8.0" text-anchor="end" font-weight="normal" fill="#000"  stroke="#000" stroke-width="0.14">1.0</text>
<line x1="442.20" y1="204.70" x2="446.00" y2="204.70" stroke="#000" stroke-width="1.25" stroke-linecap="butt"/>
<text x="441.80" y="207.61" font-size="8.0" text-anchor="end" font-weight="normal" fill="#000"  stroke="#000" stroke-width="0.14">1.5</text>
<line x1="442.20" y1="188.10" x2="446.00" y2="188.10" stroke="#000" stroke-width="1.25" stroke-linecap="butt"/>
<text x="441.80" y="191.01" font-size="8.0" text-anchor="end" font-weight="normal" fill="#000"  stroke="#000" stroke-width="0.14">2.0</text>
<rect x="454.75" y="218.85" width="14.30" height="35.65" fill="none" stroke="#000" stroke-width="1.2" />
<rect x="478.55" y="217.85" width="14.40" height="36.65" fill="none" stroke="#f5821f" stroke-width="1.15" />
<line x1="461.90" y1="216.80" x2="461.90" y2="219.80" stroke="#111" stroke-width="1.2" stroke-linecap="butt"/>
<line x1="458.30" y1="216.80" x2="465.50" y2="216.80" stroke="#111" stroke-width="1.2" stroke-linecap="butt"/>
<line x1="458.30" y1="219.80" x2="465.50" y2="219.80" stroke="#111" stroke-width="1.2" stroke-linecap="butt"/>
<line x1="485.75" y1="215.40" x2="485.75" y2="219.20" stroke="#f5821f" stroke-width="1.2" stroke-linecap="butt"/>
<line x1="482.15" y1="215.40" x2="489.35" y2="215.40" stroke="#f5821f" stroke-width="1.2" stroke-linecap="butt"/>
<line x1="482.15" y1="219.20" x2="489.35" y2="219.20" stroke="#f5821f" stroke-width="1.2" stroke-linecap="butt"/>
<rect x="462.82" y="194.52" width="1.35" height="1.35" fill="#111" stroke="none" stroke-width="1.0" />
<rect x="462.82" y="198.32" width="1.35" height="1.35" fill="#111" stroke="none" stroke-width="1.0" />
<rect x="459.32" y="210.22" width="1.35" height="1.35" fill="#111" stroke="none" stroke-width="1.0" />
<rect x="462.82" y="209.92" width="1.35" height="1.35" fill="#111" stroke="none" stroke-width="1.0" />
<rect x="466.22" y="209.12" width="1.35" height="1.35" fill="#111" stroke="none" stroke-width="1.0" />
<rect x="459.32" y="213.72" width="1.35" height="1.35" fill="#111" stroke="none" stroke-width="1.0" />
<rect x="462.82" y="213.72" width="1.35" height="1.35" fill="#111" stroke="none" stroke-width="1.0" />
<rect x="457.32" y="216.12" width="1.35" height="1.35" fill="#111" stroke="none" stroke-width="1.0" />
<rect x="460.32" y="216.32" width="1.35" height="1.35" fill="#111" stroke="none" stroke-width="1.0" />
<rect x="463.32" y="216.62" width="1.35" height="1.35" fill="#111" stroke="none" stroke-width="1.0" />
<rect x="465.82" y="216.32" width="1.35" height="1.35" fill="#111" stroke="none" stroke-width="1.0" />
<rect x="459.32" y="217.92" width="1.35" height="1.35" fill="#111" stroke="none" stroke-width="1.0" />
<rect x="462.32" y="218.32" width="1.35" height="1.35" fill="#111" stroke="none" stroke-width="1.0" />
<rect x="465.32" y="218.12" width="1.35" height="1.35" fill="#111" stroke="none" stroke-width="1.0" />
<rect x="459.32" y="222.02" width="1.35" height="1.35" fill="#111" stroke="none" stroke-width="1.0" />
<rect x="462.82" y="222.02" width="1.35" height="1.35" fill="#111" stroke="none" stroke-width="1.0" />
<rect x="466.12" y="222.22" width="1.35" height="1.35" fill="#111" stroke="none" stroke-width="1.0" />
<rect x="459.32" y="223.82" width="1.35" height="1.35" fill="#111" stroke="none" stroke-width="1.0" />
<rect x="462.82" y="224.12" width="1.35" height="1.35" fill="#111" stroke="none" stroke-width="1.0" />
<rect x="455.93" y="225.72" width="1.35" height="1.35" fill="#111" stroke="none" stroke-width="1.0" />
<rect x="462.82" y="226.02" width="1.35" height="1.35" fill="#111" stroke="none" stroke-width="1.0" />
<rect x="466.12" y="226.32" width="1.35" height="1.35" fill="#111" stroke="none" stroke-width="1.0" />
<rect x="455.93" y="227.32" width="1.35" height="1.35" fill="#111" stroke="none" stroke-width="1.0" />
<rect x="466.12" y="227.32" width="1.35" height="1.35" fill="#111" stroke="none" stroke-width="1.0" />
<rect x="462.82" y="228.52" width="1.35" height="1.35" fill="#111" stroke="none" stroke-width="1.0" />
<rect x="487.62" y="199.82" width="1.35" height="1.35" fill="#f5821f" stroke="none" stroke-width="1.0" />
<rect x="482.93" y="200.62" width="1.35" height="1.35" fill="#f5821f" stroke="none" stroke-width="1.0" />
<rect x="482.93" y="203.32" width="1.35" height="1.35" fill="#f5821f" stroke="none" stroke-width="1.0" />
<rect x="484.72" y="203.82" width="1.35" height="1.35" fill="#f5821f" stroke="none" stroke-width="1.0" />
<rect x="487.62" y="203.52" width="1.35" height="1.35" fill="#f5821f" stroke="none" stroke-width="1.0" />
<rect x="487.62" y="209.12" width="1.35" height="1.35" fill="#f5821f" stroke="none" stroke-width="1.0" />
<rect x="487.62" y="210.52" width="1.35" height="1.35" fill="#f5821f" stroke="none" stroke-width="1.0" />
<rect x="482.93" y="211.82" width="1.35" height="1.35" fill="#f5821f" stroke="none" stroke-width="1.0" />
<rect x="485.32" y="212.22" width="1.35" height="1.35" fill="#f5821f" stroke="none" stroke-width="1.0" />
<rect x="487.62" y="211.62" width="1.35" height="1.35" fill="#f5821f" stroke="none" stroke-width="1.0" />
<rect x="481.32" y="214.82" width="1.35" height="1.35" fill="#f5821f" stroke="none" stroke-width="1.0" />
<rect x="484.32" y="215.12" width="1.35" height="1.35" fill="#f5821f" stroke="none" stroke-width="1.0" />
<rect x="487.32" y="214.92" width="1.35" height="1.35" fill="#f5821f" stroke="none" stroke-width="1.0" />
<rect x="489.82" y="214.72" width="1.35" height="1.35" fill="#f5821f" stroke="none" stroke-width="1.0" />
<rect x="480.32" y="218.32" width="1.35" height="1.35" fill="#f5821f" stroke="none" stroke-width="1.0" />
<rect x="483.32" y="218.82" width="1.35" height="1.35" fill="#f5821f" stroke="none" stroke-width="1.0" />
<rect x="486.32" y="218.62" width="1.35" height="1.35" fill="#f5821f" stroke="none" stroke-width="1.0" />
<rect x="489.32" y="218.32" width="1.35" height="1.35" fill="#f5821f" stroke="none" stroke-width="1.0" />
<rect x="480.12" y="222.02" width="1.35" height="1.35" fill="#f5821f" stroke="none" stroke-width="1.0" />
<rect x="482.93" y="222.52" width="1.35" height="1.35" fill="#f5821f" stroke="none" stroke-width="1.0" />
<rect x="484.72" y="222.92" width="1.35" height="1.35" fill="#f5821f" stroke="none" stroke-width="1.0" />
<rect x="486.52" y="222.62" width="1.35" height="1.35" fill="#f5821f" stroke="none" stroke-width="1.0" />
<rect x="488.72" y="222.32" width="1.35" height="1.35" fill="#f5821f" stroke="none" stroke-width="1.0" />
<rect x="491.02" y="221.82" width="1.35" height="1.35" fill="#f5821f" stroke="none" stroke-width="1.0" />
<rect x="482.93" y="227.22" width="1.35" height="1.35" fill="#f5821f" stroke="none" stroke-width="1.0" />
<rect x="487.62" y="228.32" width="1.35" height="1.35" fill="#f5821f" stroke="none" stroke-width="1.0" />
<rect x="482.93" y="230.82" width="1.35" height="1.35" fill="#f5821f" stroke="none" stroke-width="1.0" />
<rect x="487.62" y="230.82" width="1.35" height="1.35" fill="#f5821f" stroke="none" stroke-width="1.0" />
<polyline points="462.00,180.40 462.00,176.50 485.40,176.50 485.40,180.40" fill="none" stroke="#111" stroke-width="1.15" stroke-linejoin="round" />
<text x="473.70" y="174.20" font-size="8.3" text-anchor="middle" font-weight="normal" fill="#000"  stroke="#000" stroke-width="0.14">ns</text>
<text transform="translate(427.30,212.80) rotate(-90)" font-size="8.3" text-anchor="middle" font-weight="normal" fill="#000"  stroke="#000" stroke-width="0.14">Paired-Pulse Ratio</text>
<text transform="translate(471.50,261.80) rotate(-45)" font-size="8.3" text-anchor="end" font-weight="normal" fill="#000"  stroke="#000" stroke-width="0.14">Control</text>
<text transform="translate(493.80,261.30) rotate(-45)" font-size="8.3" text-anchor="end" font-weight="normal" fill="#000"  stroke="#000" stroke-width="0.14">PKA KD</text>
<text transform="translate(25.20,339.80) rotate(-90)" font-size="8.3" text-anchor="middle" font-weight="normal" fill="#000"  stroke="#000" stroke-width="0.14">Control</text>
<text transform="translate(26.20,397.20) rotate(-90)" font-size="8.3" text-anchor="middle" font-weight="normal" fill="#000"  stroke="#000" stroke-width="0.14">PKA KD</text>
<g clip-path="url(#photoclip)">
<rect x="36.00" y="313.00" width="157.20" height="118.00" fill="url(#photobg)" stroke="none" stroke-width="1.0" />
<rect x="36.00" y="313.00" width="157.20" height="118.00" fill="url(#photobg2)" stroke="none" stroke-width="1.0" />
<line x1="36.00" y1="313.30" x2="193.20" y2="313.30" stroke="#cfcfcf" stroke-width="0.8" stroke-linecap="butt"/>
<g filter="url(#b3)">
<path d="M54.5,315.5 L55.0,316.5 L55.1,318.1 L55.2,319.7 L55.5,321.1 L56.0,322.0 L56.8,322.2 L57.7,322.0 L58.9,321.4 L60.3,320.9 L62.0,320.5 L64.0,320.3 L66.4,320.1 L69.0,319.9 L71.8,319.7 L75.0,319.5 L78.7,319.3 L82.8,319.0 L87.2,318.8 L91.3,318.6 L95.0,318.5 L98.2,318.5 L101.1,318.6 L103.8,318.8 L106.1,319.1 L108.0,319.5 L109.4,320.0 L110.4,320.6 L111.0,321.2 L111.5,322.0 L112.0,323.0 L112.6,324.3 L113.3,325.8 L113.8,327.5 L113.7,328.9 L113.0,330.0 L111.6,330.6 L109.6,330.8 L107.1,330.9 L103.9,330.9 L100.0,331.0 L94.9,331.2 L88.6,331.4 L82.0,331.7 L75.5,331.9 L70.0,332.0 L65.4,332.2 L61.2,332.4 L57.5,332.6 L54.4,332.5 L52.0,332.0 L50.4,331.1 L49.6,329.8 L49.2,328.4 L49.1,326.7 L49.0,325.0 L48.8,323.0 L48.7,320.7 L48.8,318.4 L49.1,316.4 L49.5,315.0 L50.3,314.3 L51.3,314.2 L52.5,314.4 L53.7,314.8 L54.5,315.5 Z" fill="#dadada" />
<path d="M54.0,373.5 L54.4,374.4 L54.6,375.8 L54.7,377.2 L54.9,378.4 L55.5,379.0 L56.4,378.8 L57.4,378.0 L58.7,377.0 L60.2,375.9 L62.0,375.0 L64.1,374.3 L66.4,373.7 L69.0,373.0 L71.8,372.5 L75.0,372.0 L78.6,371.6 L82.7,371.2 L87.0,370.8 L91.2,370.6 L95.0,370.5 L98.5,370.5 L101.8,370.6 L104.9,370.7 L107.7,371.0 L110.0,371.5 L111.8,372.1 L113.2,372.7 L114.3,373.5 L115.2,374.6 L116.0,376.0 L117.0,378.1 L118.0,380.7 L118.8,383.6 L118.9,386.1 L118.0,388.0 L115.9,389.1 L112.8,389.6 L109.0,389.8 L104.7,389.9 L100.0,390.0 L94.6,390.1 L88.3,390.1 L81.7,390.1 L75.4,390.0 L70.0,390.0 L65.4,390.1 L61.2,390.4 L57.5,390.6 L54.4,390.5 L52.0,390.0 L50.4,388.9 L49.6,387.4 L49.2,385.7 L49.1,383.8 L49.0,382.0 L48.8,380.1 L48.8,378.0 L48.8,376.0 L49.1,374.2 L49.5,373.0 L50.2,372.4 L51.2,372.3 L52.2,372.5 L53.2,372.9 L54.0,373.5 Z" fill="#dedede" />
<path d="M125.0,393.0 L127.5,393.5 L130.4,394.0 L133.4,394.6 L136.7,395.1 L140.0,395.5 L144.0,395.9 L148.7,396.2 L153.2,396.4 L156.7,396.7 L158.0,397.0 L156.7,397.3 L153.5,397.7 L149.1,398.0 L144.3,398.3 L140.0,398.5 L135.9,398.7 L131.3,399.0 L126.9,399.1 L122.9,399.0 L120.0,398.5 L118.1,397.2 L117.0,395.4 L116.6,393.3 L116.6,391.6 L117.0,390.5 L117.8,390.3 L119.1,390.7 L120.8,391.5 L122.8,392.3 L125.0,393.0 Z" fill="#c4c4c4" />
<path d="M150.0,343.2 L157.3,343.1 L165.2,342.8 L172.8,342.6 L179.4,342.4 L184.0,342.4 L186.7,342.6 L188.1,343.0 L188.1,343.4 L186.7,343.8 L184.0,344.2 L179.4,344.5 L172.8,344.8 L165.2,345.0 L157.3,345.2 L150.0,345.4 L142.7,345.6 L134.8,345.9 L127.2,346.0 L120.6,346.1 L116.0,346.0 L113.3,345.6 L111.9,344.9 L111.9,344.1 L113.3,343.5 L116.0,343.0 L120.6,342.9 L127.2,342.9 L134.8,343.0 L142.7,343.2 L150.0,343.2 Z" fill="#dcdcdc" />
</g>
<circle cx="156.7" cy="333.8" r="2.3" fill="#cdcdcd" filter="url(#b2)"/>
<g filter="url(#b2)">
<path d="M110.4,322.0 L110.3,320.8 L110.2,319.8 L110.0,318.9 L109.9,318.2 L110.0,317.6 L110.2,317.1 L110.6,316.7 L111.1,316.4 L111.5,316.3 L112.0,316.2 L112.5,316.3 L113.0,316.4 L113.6,316.7 L114.1,317.1 L114.4,317.6 L114.5,318.2 L114.5,318.9 L114.5,319.8 L114.4,320.8 L114.4,322.0 L114.6,323.6 L114.9,325.7 L115.1,327.8 L115.2,329.7 L115.0,331.0 L114.3,331.7 L113.2,332.1 L112.0,332.1 L110.9,331.7 L110.2,331.0 L109.9,329.7 L109.9,327.8 L110.1,325.7 L110.3,323.6 L110.4,322.0 Z" fill="#8a8a8a" />
<path d="M111.4,358.0 L111.5,359.5 L111.5,360.9 L111.4,362.2 L111.5,363.4 L111.6,364.5 L111.8,365.4 L112.1,366.3 L112.5,367.0 L112.8,367.4 L113.2,367.6 L113.6,367.4 L114.0,367.0 L114.4,366.3 L114.8,365.4 L115.0,364.5 L115.1,363.5 L115.0,362.3 L114.8,360.9 L114.7,359.5 L114.6,358.0 L114.6,356.2 L114.8,354.1 L114.9,352.0 L114.8,350.2 L114.6,349.0 L114.0,348.4 L113.1,348.3 L112.0,348.6 L111.2,349.2 L110.6,350.0 L110.5,351.2 L110.6,352.8 L110.9,354.6 L111.2,356.4 L111.4,358.0 Z" fill="#8a8a8a" />
<path d="M54.6,357.2 L54.9,357.6 L55.4,358.0 L55.8,358.3 L56.2,358.4 L56.6,358.4 L56.9,358.2 L57.3,357.9 L57.5,357.4 L57.7,356.9 L57.8,356.4 L57.7,355.8 L57.6,355.2 L57.3,354.6 L57.0,354.0 L56.6,353.6 L56.1,353.4 L55.3,353.2 L54.6,353.2 L54.0,353.3 L53.6,353.6 L53.5,354.1 L53.7,354.9 L53.9,355.8 L54.3,356.6 L54.6,357.2 Z" fill="#777" />
<path d="M116.5,338.9 L150,338.9 L176,339.2 L186.8,339.7 L186.8,341.2 L176,342.0 L150,342.6 L116.5,343.0 Z" fill="#949494"/>
<path d="M116.5,339.9 L150,339.8 L176,339.9 L180,340.0 L180,341.0 L176,341.3 L150,341.8 L116.5,342.2 Z" fill="#2c2c2c"/>
<path d="M183,339.8 L186.8,339.9 L186.8,341.0 L183,341.1 Z" fill="#2c2c2c"/>
<path d="M41.5,339.6 L42.2,338.8 L42.9,338.0 L43.7,337.2 L44.6,336.5 L45.4,335.8 L46.2,335.2 L47.1,334.6 L47.9,334.1 L48.7,333.6 L49.5,333.2 L50.2,332.9 L50.8,332.7 L51.5,332.5 L52.2,332.3 L53.0,332.0 L54.0,331.5 L55.0,330.9 L56.1,330.2 L57.4,329.6 L58.8,329.0 L60.5,328.5 L62.4,328.1 L64.4,327.7 L66.5,327.3 L68.5,327.0 L70.4,326.8 L72.3,326.6 L74.2,326.5 L76.1,326.4 L78.0,326.2 L79.9,326.0 L81.9,325.8 L83.8,325.6 L85.8,325.4 L87.7,325.2 L89.7,324.9 L91.7,324.5 L93.6,324.2 L95.5,323.9 L97.3,323.8 L98.9,323.8 L100.5,324.0 L102.0,324.2 L103.3,324.6 L104.5,325.0 L105.5,325.5 L106.4,326.1 L107.1,326.8 L107.8,327.5 L108.5,328.3 L109.2,329.1 L109.8,329.9 L110.3,330.8 L110.9,331.7 L111.5,332.6 L112.1,333.6 L112.8,334.6 L113.4,335.7 L114.0,336.7 L114.6,337.6 L115.3,338.3 L116.0,339.0 L116.7,339.6 L117.1,340.2 L117.3,340.8 L117.0,341.5 L116.5,342.2 L115.7,343.0 L114.9,343.8 L114.2,344.6 L113.6,345.5 L113.0,346.5 L112.4,347.5 L111.8,348.5 L111.2,349.4 L110.6,350.3 L110.1,351.2 L109.6,352.0 L108.9,352.8 L108.0,353.6 L106.9,354.4 L105.6,355.1 L104.2,355.8 L102.6,356.4 L101.0,357.0 L99.3,357.5 L97.4,357.8 L95.4,358.1 L93.4,358.5 L91.5,358.8 L89.6,359.3 L87.7,359.8 L85.8,360.3 L83.9,360.7 L82.0,360.8 L80.1,360.6 L78.1,360.3 L76.2,359.8 L74.2,359.2 L72.3,358.8 L70.3,358.5 L68.3,358.2 L66.3,357.9 L64.4,357.6 L62.7,357.3 L61.3,357.0 L60.1,356.8 L59.0,356.5 L58.0,356.3 L57.0,356.0 L56.0,355.7 L55.1,355.3 L54.2,355.0 L53.4,354.6 L52.5,354.2 L51.7,353.8 L50.8,353.4 L50.0,352.9 L49.2,352.5 L48.3,352.0 L47.4,351.5 L46.4,350.9 L45.4,350.3 L44.4,349.7 L43.5,349.2 L42.7,348.7 L41.9,348.3 L41.1,347.9 L40.5,347.5 L40.0,347.0 L39.6,346.5 L39.3,346.1 L39.2,345.6 L39.1,345.1 L39.2,344.4 L39.4,343.6 L39.8,342.6 L40.3,341.6 L40.9,340.5 L41.5,339.6 Z" fill="#060606" />
<ellipse cx="48.8" cy="332.2" rx="2.7" ry="3.6" fill="#8c8c8c" transform="rotate(-28 48.8 332.2)"/>
<ellipse cx="52.6" cy="351.4" rx="3.3" ry="2.7" fill="#9a9a9a"/>
<circle cx="46.3" cy="343.4" r="0.9" fill="#666"/>
</g>
<g filter="url(#b2)">
<path d="M114.2,377.0 L114.1,376.0 L114.0,375.1 L113.9,374.4 L113.9,373.8 L114.0,373.2 L114.3,372.7 L114.8,372.2 L115.3,371.9 L115.9,371.7 L116.4,371.6 L117.0,371.7 L117.6,371.9 L118.3,372.2 L118.8,372.6 L119.2,373.2 L119.3,373.9 L119.2,374.8 L119.0,375.8 L118.9,376.8 L118.8,378.0 L119.0,379.4 L119.3,381.0 L119.5,382.6 L119.6,384.0 L119.4,385.0 L118.6,385.5 L117.4,385.7 L116.0,385.6 L114.8,385.2 L114.0,384.5 L113.7,383.4 L113.7,381.8 L113.9,380.1 L114.1,378.4 L114.2,377.0 Z" fill="#8a8a8a" />
<path d="M113.2,420.0 L113.2,420.8 L113.2,421.6 L113.2,422.3 L113.3,422.9 L113.4,423.5 L113.6,424.1 L113.9,424.7 L114.2,425.3 L114.5,425.7 L114.8,425.8 L115.1,425.7 L115.5,425.3 L115.9,424.8 L116.2,424.2 L116.4,423.5 L116.5,422.7 L116.5,421.9 L116.5,420.9 L116.4,420.0 L116.4,419.0 L116.5,417.9 L116.7,416.7 L116.8,415.6 L116.8,414.6 L116.6,414.0 L116.0,413.8 L115.2,413.8 L114.2,414.0 L113.4,414.4 L112.8,415.0 L112.6,415.8 L112.7,416.8 L112.9,417.9 L113.1,419.0 L113.2,420.0 Z" fill="#8a8a8a" />
<path d="M120.4,396.8 C135,398.0 150,398.0 165,396.6 C175,395.4 183,394.4 189.6,393.9 L189.6,395.4 C183,396.4 175,398.0 165,399.3 C150,400.8 135,401.0 120.4,400.4 Z" fill="#8e8e8e"/>
<path d="M120.4,397.3 C135,398.5 150,398.5 165,397.1 C175,395.9 183,394.9 189.4,394.4 L189.4,395.1 C183,396.0 175,397.5 165,398.8 C150,400.3 135,400.5 120.4,399.9 Z" fill="#2c2c2c"/>
<path d="M39.4,398.6 L39.8,398.1 L40.1,397.6 L40.5,397.2 L40.9,396.7 L41.3,396.3 L41.8,395.9 L42.2,395.5 L42.7,395.1 L43.3,394.8 L43.8,394.4 L44.4,394.1 L44.9,393.7 L45.5,393.4 L46.1,393.1 L46.8,392.8 L47.5,392.5 L48.3,392.1 L49.1,391.8 L49.8,391.4 L50.5,391.0 L51.0,390.6 L51.5,390.1 L51.9,389.7 L52.3,389.2 L52.8,388.6 L53.4,388.0 L54.0,387.3 L54.6,386.5 L55.4,385.7 L56.3,385.0 L57.4,384.2 L58.6,383.4 L59.9,382.7 L61.2,381.9 L62.5,381.3 L63.7,380.8 L64.9,380.4 L66.1,380.0 L67.3,379.7 L68.5,379.4 L69.7,379.1 L70.8,378.8 L71.9,378.5 L73.3,378.2 L75.0,378.0 L77.1,377.8 L79.6,377.6 L82.2,377.4 L84.9,377.2 L87.5,377.2 L90.1,377.2 L92.8,377.4 L95.4,377.5 L97.9,377.8 L100.0,378.0 L101.8,378.2 L103.3,378.5 L104.6,378.8 L105.8,379.2 L107.0,379.6 L108.3,380.1 L109.5,380.7 L110.6,381.3 L111.7,381.9 L112.7,382.6 L113.6,383.3 L114.4,384.1 L115.1,384.9 L115.7,385.7 L116.3,386.6 L116.8,387.6 L117.2,388.7 L117.6,389.8 L117.9,390.9 L118.3,392.0 L118.7,393.2 L119.1,394.4 L119.5,395.6 L119.9,396.7 L120.2,397.5 L120.5,398.0 L120.8,398.2 L121.1,398.4 L121.3,398.6 L121.3,399.0 L121.1,399.7 L120.8,400.5 L120.4,401.4 L120.0,402.4 L119.6,403.5 L119.3,404.7 L118.9,406.1 L118.6,407.5 L118.2,408.9 L117.8,410.2 L117.3,411.4 L116.9,412.5 L116.3,413.6 L115.7,414.6 L114.8,415.6 L113.7,416.5 L112.4,417.4 L111.0,418.2 L109.5,419.0 L108.0,419.6 L106.5,420.1 L105.1,420.5 L103.6,420.8 L101.9,421.1 L100.0,421.4 L97.8,421.7 L95.3,421.9 L92.7,422.2 L90.1,422.3 L87.5,422.4 L85.0,422.4 L82.5,422.3 L80.0,422.2 L77.5,421.9 L75.0,421.6 L72.4,421.2 L69.8,420.7 L67.1,420.1 L64.7,419.5 L62.5,418.8 L60.6,418.1 L59.0,417.3 L57.5,416.5 L56.2,415.7 L55.0,415.0 L54.0,414.4 L53.1,413.9 L52.4,413.4 L51.7,412.9 L51.0,412.4 L50.3,411.9 L49.6,411.5 L49.0,411.0 L48.3,410.6 L47.5,410.0 L46.6,409.3 L45.5,408.6 L44.5,407.8 L43.4,407.0 L42.5,406.3 L41.6,405.7 L40.8,405.2 L40.0,404.7 L39.4,404.3 L38.8,403.8 L38.3,403.3 L38.0,402.8 L37.7,402.3 L37.5,401.8 L37.5,401.3 L37.7,400.8 L38.0,400.2 L38.5,399.7 L39.0,399.1 L39.4,398.6 Z" fill="#060606" />
<ellipse cx="48.8" cy="393.6" rx="3.0" ry="2.7" fill="#9a9a9a"/>
<ellipse cx="49.8" cy="413.0" rx="3.2" ry="3.6" fill="#8c8c8c"/>
<circle cx="44.6" cy="400.6" r="0.9" fill="#555"/>
</g>
</g>
<line x1="227.30" y1="307.50" x2="227.30" y2="422.50" stroke="#000" stroke-width="1.25" stroke-linecap="butt"/>
<line x1="226.80" y1="422.00" x2="345.80" y2="422.00" stroke="#000" stroke-width="1.25" stroke-linecap="butt"/>
<line x1="223.30" y1="411.00" x2="227.30" y2="411.00" stroke="#000" stroke-width="1.25" stroke-linecap="butt"/>
<text x="222.80" y="414.15" font-size="8.8" text-anchor="end" font-weight="normal" fill="#000"  stroke="#000" stroke-width="0.14">20</text>
<line x1="223.30" y1="380.60" x2="227.30" y2="380.60" stroke="#000" stroke-width="1.25" stroke-linecap="butt"/>
<text x="222.80" y="383.75" font-size="8.8" text-anchor="end" font-weight="normal" fill="#000"  stroke="#000" stroke-width="0.14">25</text>
<line x1="223.30" y1="350.20" x2="227.30" y2="350.20" stroke="#000" stroke-width="1.25" stroke-linecap="butt"/>
<text x="222.80" y="353.35" font-size="8.8" text-anchor="end" font-weight="normal" fill="#000"  stroke="#000" stroke-width="0.14">30</text>
<line x1="223.30" y1="319.80" x2="227.30" y2="319.80" stroke="#000" stroke-width="1.25" stroke-linecap="butt"/>
<text x="222.80" y="322.95" font-size="8.8" text-anchor="end" font-weight="normal" fill="#000"  stroke="#000" stroke-width="0.14">35</text>
<line x1="237.30" y1="422.00" x2="237.30" y2="426.00" stroke="#000" stroke-width="1.25" stroke-linecap="butt"/>
<text x="237.30" y="434.80" font-size="8.8" text-anchor="middle" font-weight="normal" fill="#000"  stroke="#000" stroke-width="0.14">0</text>
<line x1="270.00" y1="422.00" x2="270.00" y2="426.00" stroke="#000" stroke-width="1.25" stroke-linecap="butt"/>
<text x="270.00" y="434.80" font-size="8.8" text-anchor="middle" font-weight="normal" fill="#000"  stroke="#000" stroke-width="0.14">10</text>
<line x1="302.70" y1="422.00" x2="302.70" y2="426.00" stroke="#000" stroke-width="1.25" stroke-linecap="butt"/>
<text x="302.70" y="434.80" font-size="8.8" text-anchor="middle" font-weight="normal" fill="#000"  stroke="#000" stroke-width="0.14">20</text>
<line x1="335.40" y1="422.00" x2="335.40" y2="426.00" stroke="#000" stroke-width="1.25" stroke-linecap="butt"/>
<text x="335.40" y="434.80" font-size="8.8" text-anchor="middle" font-weight="normal" fill="#000"  stroke="#000" stroke-width="0.14">30</text>
<text x="292.80" y="442.90" font-size="8.3" text-anchor="middle" font-weight="normal" fill="#000"  stroke="#000" stroke-width="0.14">Days After Injection</text>
<text transform="translate(210.40,359.40) rotate(-90)" font-size="8.3" text-anchor="middle" font-weight="normal" fill="#000"  stroke="#000" stroke-width="0.14">Body Weight (g)</text>
<polyline points="237.30,414.34 247.11,407.96 256.92,401.27 266.73,394.58 276.54,389.72 286.35,388.20 296.16,386.38 305.97,384.25 315.78,383.34 325.59,381.82 335.40,379.08" fill="none" stroke="#111" stroke-width="1.1" stroke-linejoin="round" />
<line x1="237.30" y1="416.17" x2="237.30" y2="412.52" stroke="#111" stroke-width="0.95" stroke-linecap="butt"/>
<line x1="236.10" y1="416.17" x2="238.50" y2="416.17" stroke="#111" stroke-width="0.9" stroke-linecap="butt"/>
<line x1="236.10" y1="412.52" x2="238.50" y2="412.52" stroke="#111" stroke-width="0.9" stroke-linecap="butt"/>
<circle cx="237.30" cy="414.34" r="1.35" fill="#111"/>
<line x1="247.11" y1="409.48" x2="247.11" y2="406.44" stroke="#111" stroke-width="0.95" stroke-linecap="butt"/>
<line x1="245.91" y1="409.48" x2="248.31" y2="409.48" stroke="#111" stroke-width="0.9" stroke-linecap="butt"/>
<line x1="245.91" y1="406.44" x2="248.31" y2="406.44" stroke="#111" stroke-width="0.9" stroke-linecap="butt"/>
<circle cx="247.11" cy="407.96" r="1.35" fill="#111"/>
<line x1="256.92" y1="403.10" x2="256.92" y2="399.45" stroke="#111" stroke-width="0.95" stroke-linecap="butt"/>
<line x1="255.72" y1="403.10" x2="258.12" y2="403.10" stroke="#111" stroke-width="0.9" stroke-linecap="butt"/>
<line x1="255.72" y1="399.45" x2="258.12" y2="399.45" stroke="#111" stroke-width="0.9" stroke-linecap="butt"/>
<circle cx="256.92" cy="401.27" r="1.35" fill="#111"/>
<line x1="266.73" y1="396.41" x2="266.73" y2="392.76" stroke="#111" stroke-width="0.95" stroke-linecap="butt"/>
<line x1="265.53" y1="396.41" x2="267.93" y2="396.41" stroke="#111" stroke-width="0.9" stroke-linecap="butt"/>
<line x1="265.53" y1="392.76" x2="267.93" y2="392.76" stroke="#111" stroke-width="0.9" stroke-linecap="butt"/>
<circle cx="266.73" cy="394.58" r="1.35" fill="#111"/>
<line x1="276.54" y1="391.54" x2="276.54" y2="387.90" stroke="#111" stroke-width="0.95" stroke-linecap="butt"/>
<line x1="275.34" y1="391.54" x2="277.74" y2="391.54" stroke="#111" stroke-width="0.9" stroke-linecap="butt"/>
<line x1="275.34" y1="387.90" x2="277.74" y2="387.90" stroke="#111" stroke-width="0.9" stroke-linecap="butt"/>
<circle cx="276.54" cy="389.72" r="1.35" fill="#111"/>
<line x1="286.35" y1="390.02" x2="286.35" y2="386.38" stroke="#111" stroke-width="0.95" stroke-linecap="butt"/>
<line x1="285.15" y1="390.02" x2="287.55" y2="390.02" stroke="#111" stroke-width="0.9" stroke-linecap="butt"/>
<line x1="285.15" y1="386.38" x2="287.55" y2="386.38" stroke="#111" stroke-width="0.9" stroke-linecap="butt"/>
<circle cx="286.35" cy="388.20" r="1.35" fill="#111"/>
<line x1="296.16" y1="388.20" x2="296.16" y2="384.55" stroke="#111" stroke-width="0.95" stroke-linecap="butt"/>
<line x1="294.96" y1="388.20" x2="297.36" y2="388.20" stroke="#111" stroke-width="0.9" stroke-linecap="butt"/>
<line x1="294.96" y1="384.55" x2="297.36" y2="384.55" stroke="#111" stroke-width="0.9" stroke-linecap="butt"/>
<circle cx="296.16" cy="386.38" r="1.35" fill="#111"/>
<line x1="305.97" y1="386.07" x2="305.97" y2="382.42" stroke="#111" stroke-width="0.95" stroke-linecap="butt"/>
<line x1="304.77" y1="386.07" x2="307.17" y2="386.07" stroke="#111" stroke-width="0.9" stroke-linecap="butt"/>
<line x1="304.77" y1="382.42" x2="307.17" y2="382.42" stroke="#111" stroke-width="0.9" stroke-linecap="butt"/>
<circle cx="305.97" cy="384.25" r="1.35" fill="#111"/>
<line x1="315.78" y1="384.86" x2="315.78" y2="381.82" stroke="#111" stroke-width="0.95" stroke-linecap="butt"/>
<line x1="314.58" y1="384.86" x2="316.98" y2="384.86" stroke="#111" stroke-width="0.9" stroke-linecap="butt"/>
<line x1="314.58" y1="381.82" x2="316.98" y2="381.82" stroke="#111" stroke-width="0.9" stroke-linecap="butt"/>
<circle cx="315.78" cy="383.34" r="1.35" fill="#111"/>
<line x1="325.59" y1="383.64" x2="325.59" y2="379.99" stroke="#111" stroke-width="0.95" stroke-linecap="butt"/>
<line x1="324.39" y1="383.64" x2="326.79" y2="383.64" stroke="#111" stroke-width="0.9" stroke-linecap="butt"/>
<line x1="324.39" y1="379.99" x2="326.79" y2="379.99" stroke="#111" stroke-width="0.9" stroke-linecap="butt"/>
<circle cx="325.59" cy="381.82" r="1.35" fill="#111"/>
<line x1="335.40" y1="380.90" x2="335.40" y2="377.26" stroke="#111" stroke-width="0.95" stroke-linecap="butt"/>
<line x1="334.20" y1="380.90" x2="336.60" y2="380.90" stroke="#111" stroke-width="0.9" stroke-linecap="butt"/>
<line x1="334.20" y1="377.26" x2="336.60" y2="377.26" stroke="#111" stroke-width="0.9" stroke-linecap="butt"/>
<circle cx="335.40" cy="379.08" r="1.35" fill="#111"/>
<polyline points="237.30,416.47 247.11,407.96 256.92,398.54 266.73,391.54 276.54,384.55 286.35,379.08 296.16,371.48 305.97,366.92 315.78,357.19 325.59,345.03 335.40,340.17" fill="none" stroke="#f5821f" stroke-width="1.1" stroke-linejoin="round" />
<line x1="237.30" y1="418.60" x2="237.30" y2="414.34" stroke="#f5821f" stroke-width="0.95" stroke-linecap="butt"/>
<line x1="236.10" y1="418.60" x2="238.50" y2="418.60" stroke="#f5821f" stroke-width="0.9" stroke-linecap="butt"/>
<line x1="236.10" y1="414.34" x2="238.50" y2="414.34" stroke="#f5821f" stroke-width="0.9" stroke-linecap="butt"/>
<circle cx="237.30" cy="416.47" r="1.35" fill="#f5821f"/>
<line x1="247.11" y1="409.48" x2="247.11" y2="406.44" stroke="#f5821f" stroke-width="0.95" stroke-linecap="butt"/>
<line x1="245.91" y1="409.48" x2="248.31" y2="409.48" stroke="#f5821f" stroke-width="0.9" stroke-linecap="butt"/>
<line x1="245.91" y1="406.44" x2="248.31" y2="406.44" stroke="#f5821f" stroke-width="0.9" stroke-linecap="butt"/>
<circle cx="247.11" cy="407.96" r="1.35" fill="#f5821f"/>
<line x1="256.92" y1="400.66" x2="256.92" y2="396.41" stroke="#f5821f" stroke-width="0.95" stroke-linecap="butt"/>
<line x1="255.72" y1="400.66" x2="258.12" y2="400.66" stroke="#f5821f" stroke-width="0.9" stroke-linecap="butt"/>
<line x1="255.72" y1="396.41" x2="258.12" y2="396.41" stroke="#f5821f" stroke-width="0.9" stroke-linecap="butt"/>
<circle cx="256.92" cy="398.54" r="1.35" fill="#f5821f"/>
<line x1="266.73" y1="393.98" x2="266.73" y2="389.11" stroke="#f5821f" stroke-width="0.95" stroke-linecap="butt"/>
<line x1="265.53" y1="393.98" x2="267.93" y2="393.98" stroke="#f5821f" stroke-width="0.9" stroke-linecap="butt"/>
<line x1="265.53" y1="389.11" x2="267.93" y2="389.11" stroke="#f5821f" stroke-width="0.9" stroke-linecap="butt"/>
<circle cx="266.73" cy="391.54" r="1.35" fill="#f5821f"/>
<line x1="276.54" y1="387.59" x2="276.54" y2="381.51" stroke="#f5821f" stroke-width="0.95" stroke-linecap="butt"/>
<line x1="275.34" y1="387.59" x2="277.74" y2="387.59" stroke="#f5821f" stroke-width="0.9" stroke-linecap="butt"/>
<line x1="275.34" y1="381.51" x2="277.74" y2="381.51" stroke="#f5821f" stroke-width="0.9" stroke-linecap="butt"/>
<circle cx="276.54" cy="384.55" r="1.35" fill="#f5821f"/>
<line x1="286.35" y1="382.73" x2="286.35" y2="375.43" stroke="#f5821f" stroke-width="0.95" stroke-linecap="butt"/>
<line x1="285.15" y1="382.73" x2="287.55" y2="382.73" stroke="#f5821f" stroke-width="0.9" stroke-linecap="butt"/>
<line x1="285.15" y1="375.43" x2="287.55" y2="375.43" stroke="#f5821f" stroke-width="0.9" stroke-linecap="butt"/>
<circle cx="286.35" cy="379.08" r="1.35" fill="#f5821f"/>
<line x1="296.16" y1="375.43" x2="296.16" y2="367.53" stroke="#f5821f" stroke-width="0.95" stroke-linecap="butt"/>
<line x1="294.96" y1="375.43" x2="297.36" y2="375.43" stroke="#f5821f" stroke-width="0.9" stroke-linecap="butt"/>
<line x1="294.96" y1="367.53" x2="297.36" y2="367.53" stroke="#f5821f" stroke-width="0.9" stroke-linecap="butt"/>
<circle cx="296.16" cy="371.48" r="1.35" fill="#f5821f"/>
<line x1="305.97" y1="373.61" x2="305.97" y2="360.23" stroke="#f5821f" stroke-width="0.95" stroke-linecap="butt"/>
<line x1="304.77" y1="373.61" x2="307.17" y2="373.61" stroke="#f5821f" stroke-width="0.9" stroke-linecap="butt"/>
<line x1="304.77" y1="360.23" x2="307.17" y2="360.23" stroke="#f5821f" stroke-width="0.9" stroke-linecap="butt"/>
<circle cx="305.97" cy="366.92" r="1.35" fill="#f5821f"/>
<line x1="315.78" y1="367.22" x2="315.78" y2="347.16" stroke="#f5821f" stroke-width="0.95" stroke-linecap="butt"/>
<line x1="314.58" y1="367.22" x2="316.98" y2="367.22" stroke="#f5821f" stroke-width="0.9" stroke-linecap="butt"/>
<line x1="314.58" y1="347.16" x2="316.98" y2="347.16" stroke="#f5821f" stroke-width="0.9" stroke-linecap="butt"/>
<circle cx="315.78" cy="357.19" r="1.35" fill="#f5821f"/>
<line x1="325.59" y1="355.98" x2="325.59" y2="334.09" stroke="#f5821f" stroke-width="0.95" stroke-linecap="butt"/>
<line x1="324.39" y1="355.98" x2="326.79" y2="355.98" stroke="#f5821f" stroke-width="0.9" stroke-linecap="butt"/>
<line x1="324.39" y1="334.09" x2="326.79" y2="334.09" stroke="#f5821f" stroke-width="0.9" stroke-linecap="butt"/>
<circle cx="325.59" cy="345.03" r="1.35" fill="#f5821f"/>
<line x1="335.40" y1="351.72" x2="335.40" y2="328.62" stroke="#f5821f" stroke-width="0.95" stroke-linecap="butt"/>
<line x1="334.20" y1="351.72" x2="336.60" y2="351.72" stroke="#f5821f" stroke-width="0.9" stroke-linecap="butt"/>
<line x1="334.20" y1="328.62" x2="336.60" y2="328.62" stroke="#f5821f" stroke-width="0.9" stroke-linecap="butt"/>
<circle cx="335.40" cy="340.17" r="1.35" fill="#f5821f"/>
<circle cx="286.35" cy="370.60" r="1.15" fill="#222"/>
<circle cx="296.16" cy="357.30" r="1.15" fill="#222"/>
<circle cx="296.16" cy="361.20" r="1.15" fill="#222"/>
<circle cx="305.97" cy="352.30" r="1.15" fill="#222"/>
<circle cx="315.78" cy="339.00" r="1.15" fill="#222"/>
<circle cx="325.59" cy="324.00" r="1.15" fill="#222"/>
<circle cx="325.59" cy="327.30" r="1.15" fill="#222"/>
<circle cx="335.40" cy="317.30" r="1.15" fill="#222"/>
<circle cx="335.40" cy="320.60" r="1.15" fill="#222"/>
<polyline points="338.70,341.30 344.60,341.30 344.60,377.30 338.70,377.30" fill="none" stroke="#000" stroke-width="1.25" stroke-linejoin="round" />
<circle cx="349.20" cy="357.00" r="1.15" fill="#222"/>
<circle cx="349.20" cy="360.60" r="1.15" fill="#222"/>
<circle cx="349.20" cy="364.20" r="1.15" fill="#222"/>
<line x1="275.40" y1="402.80" x2="287.00" y2="402.80" stroke="#000" stroke-width="1.25" stroke-linecap="butt"/>
<circle cx="281.2" cy="402.8" r="1.35" fill="#111"/>
<text x="290.20" y="405.60" font-size="8.5" text-anchor="start" font-weight="normal" fill="#000"  stroke="#000" stroke-width="0.14">Control (n=21)</text>
<line x1="275.40" y1="411.80" x2="287.00" y2="411.80" stroke="#f5821f" stroke-width="1.25" stroke-linecap="butt"/>
<circle cx="281.2" cy="411.8" r="1.35" fill="#f5821f"/>
<text x="290.60" y="414.80" font-size="8.5" text-anchor="start" font-weight="normal" fill="#000"  stroke="#000" stroke-width="0.14">PKA KD (n=10)</text>
<line x1="420.60" y1="315.00" x2="420.60" y2="433.50" stroke="#000" stroke-width="1.25" stroke-linecap="butt"/>
<line x1="416.40" y1="433.00" x2="499.90" y2="433.00" stroke="#000" stroke-width="1.25" stroke-linecap="butt"/>
<line x1="416.80" y1="433.00" x2="420.60" y2="433.00" stroke="#000" stroke-width="1.25" stroke-linecap="butt"/>
<text x="416.40" y="436.15" font-size="8.8" text-anchor="end" font-weight="normal" fill="#000"  stroke="#000" stroke-width="0.14">0</text>
<line x1="416.80" y1="403.65" x2="420.60" y2="403.65" stroke="#000" stroke-width="1.25" stroke-linecap="butt"/>
<text x="416.40" y="406.80" font-size="8.8" text-anchor="end" font-weight="normal" fill="#000"  stroke="#000" stroke-width="0.14">100</text>
<line x1="416.80" y1="374.30" x2="420.60" y2="374.30" stroke="#000" stroke-width="1.25" stroke-linecap="butt"/>
<text x="416.40" y="377.45" font-size="8.8" text-anchor="end" font-weight="normal" fill="#000"  stroke="#000" stroke-width="0.14">200</text>
<line x1="416.80" y1="344.95" x2="420.60" y2="344.95" stroke="#000" stroke-width="1.25" stroke-linecap="butt"/>
<text x="416.40" y="348.10" font-size="8.8" text-anchor="end" font-weight="normal" fill="#000"  stroke="#000" stroke-width="0.14">300</text>
<rect x="432.85" y="382.05" width="20.40" height="50.95" fill="none" stroke="#000" stroke-width="1.2" />
<rect x="466.85" y="356.15" width="20.50" height="76.85" fill="none" stroke="#f26522" stroke-width="1.15" />
<line x1="443.05" y1="377.90" x2="443.05" y2="385.10" stroke="#111" stroke-width="1.2" stroke-linecap="butt"/>
<line x1="437.75" y1="377.90" x2="448.35" y2="377.90" stroke="#111" stroke-width="1.2" stroke-linecap="butt"/>
<line x1="437.75" y1="385.10" x2="448.35" y2="385.10" stroke="#111" stroke-width="1.2" stroke-linecap="butt"/>
<line x1="477.10" y1="352.70" x2="477.10" y2="358.50" stroke="#f26522" stroke-width="1.2" stroke-linecap="butt"/>
<line x1="471.80" y1="352.70" x2="482.40" y2="352.70" stroke="#f26522" stroke-width="1.2" stroke-linecap="butt"/>
<line x1="471.80" y1="358.50" x2="482.40" y2="358.50" stroke="#f26522" stroke-width="1.2" stroke-linecap="butt"/>
<circle cx="443.30" cy="357.50" r="1.75" fill="#111"/>
<circle cx="442.70" cy="370.20" r="1.75" fill="#111"/>
<circle cx="447.70" cy="369.20" r="1.75" fill="#111"/>
<circle cx="442.70" cy="378.80" r="1.75" fill="#111"/>
<circle cx="438.50" cy="385.00" r="1.75" fill="#111"/>
<circle cx="447.00" cy="384.20" r="1.75" fill="#111"/>
<circle cx="438.50" cy="388.80" r="1.75" fill="#111"/>
<circle cx="443.30" cy="389.80" r="1.75" fill="#111"/>
<circle cx="447.90" cy="388.60" r="1.75" fill="#111"/>
<circle cx="442.90" cy="395.60" r="1.75" fill="#111"/>
<circle cx="477.00" cy="337.90" r="1.75" fill="#f26522"/>
<circle cx="481.70" cy="347.00" r="1.75" fill="#f26522"/>
<circle cx="477.00" cy="349.80" r="1.75" fill="#f26522"/>
<circle cx="480.80" cy="353.30" r="1.75" fill="#f26522"/>
<circle cx="477.00" cy="355.80" r="1.75" fill="#f26522"/>
<circle cx="481.70" cy="360.40" r="1.75" fill="#f26522"/>
<circle cx="477.00" cy="361.50" r="1.75" fill="#f26522"/>
<circle cx="477.00" cy="369.20" r="1.75" fill="#f26522"/>
<polyline points="442.70,328.30 442.70,322.90 477.90,322.90 477.90,328.30" fill="none" stroke="#111" stroke-width="1.15" stroke-linejoin="round" />
<text x="460.30" y="321.00" font-size="8.3" text-anchor="middle" font-weight="normal" fill="#000" stroke="#000" stroke-width="0.25">***</text>
<text transform="translate(400.20,375.30) rotate(-90)" font-size="8.3" text-anchor="middle" font-weight="normal" fill="#000"  stroke="#000" stroke-width="0.14">Serum TG Concentration (mg/dL)</text>
<text transform="translate(456.30,440.30) rotate(-45)" font-size="8.3" text-anchor="end" font-weight="normal" fill="#000"  stroke="#000" stroke-width="0.14">Control</text>
<text transform="translate(489.00,439.80) rotate(-45)" font-size="8.3" text-anchor="end" font-weight="normal" fill="#000"  stroke="#000" stroke-width="0.14">PKA KD</text>
</svg>
</body></html>
